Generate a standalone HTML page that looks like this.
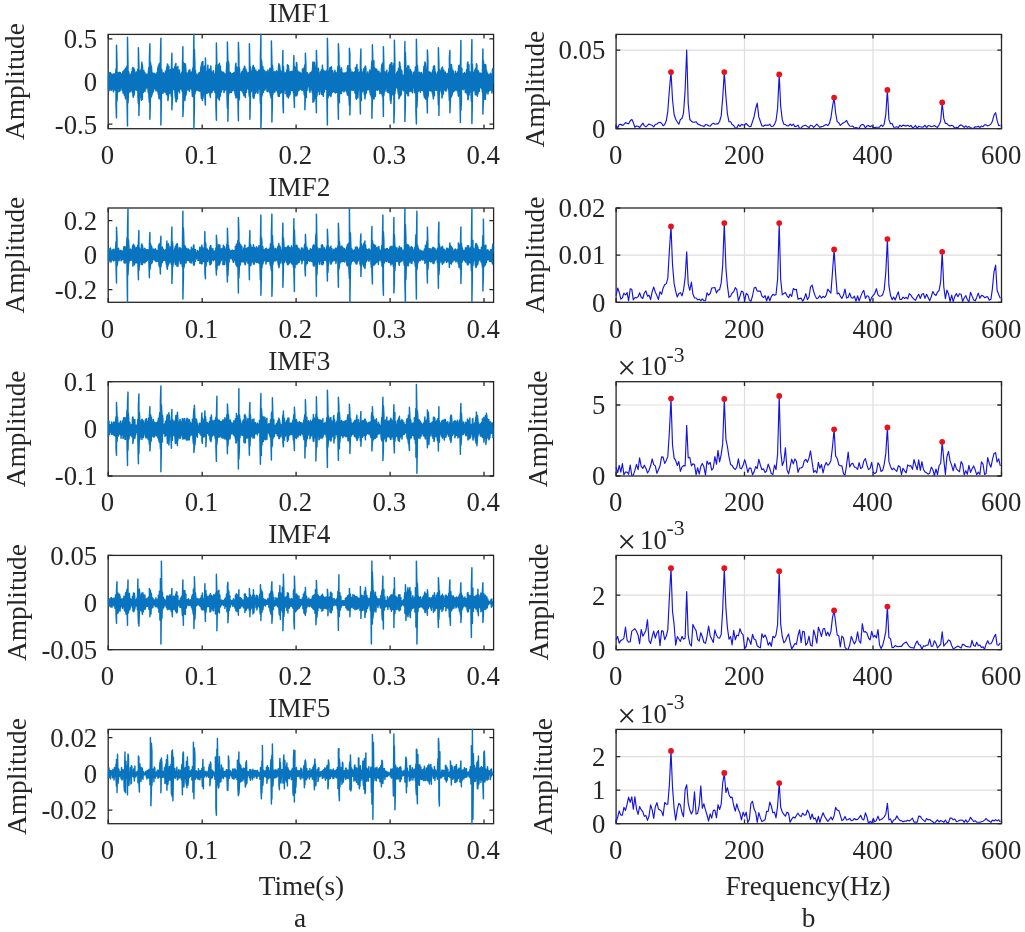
<!DOCTYPE html>
<html lang="en">
<head>
<meta charset="utf-8">
<title>IMF components and envelope spectra</title>
<style>
html,body{margin:0;padding:0;background:#fff;}
body{width:1025px;height:932px;overflow:hidden;}
svg{display:block;}
</style>
</head>
<body>
<svg width="1025" height="932" viewBox="0 0 1025 932" font-family='"Liberation Serif", serif' fill="#262626">
<rect width="1025" height="932" fill="#fff"/>
<path d="M108.2 128.7v-4.2M108.2 34.4v4.2M202.2 128.7v-4.2M202.2 34.4v4.2M296.1 128.7v-4.2M296.1 34.4v4.2M390.1 128.7v-4.2M390.1 34.4v4.2M484 128.7v-4.2M484 34.4v4.2M108.2 38.9h4.2M493.6 38.9h-4.2M108.2 81.5h4.2M493.6 81.5h-4.2M108.2 124.2h4.2M493.6 124.2h-4.2" stroke="#262626" stroke-width="1.3" fill="none"/>
<rect x="108.2" y="34.4" width="385.4" height="94.3" stroke="#262626" stroke-width="1.3" fill="none"/>
<polyline points="108.5,90.8 108.5,76.6 109,72.9 109,91 109.5,87.1 109.5,75.5 110,72.5 110,89.2 110.5,89.7 110.5,72.8 111,75 111,89.1 111.5,90.3 111.5,74.1 112,74.1 112,86 112.5,88 112.5,75.1 113,74.4 113,89.1 113.5,91.8 113.5,75 114,73.8 114,88.1 114.5,89.7 114.5,73.9 115,75.4 115,88.6 115.5,90.3 115.5,76.1 116,68.8 116,104.9 116.5,117.9 116.5,45.2 117,64.2 117,100.9 117.5,92.6 117.5,72.8 118,75 118,87.7 118.5,88.3 118.5,72.8 119,75.1 119,91.7 119.5,91 119.5,72.2 120,75.5 120,91 120.5,87.9 120.5,72.6 121,74.5 121,86.3 121.5,86.7 121.5,74.2 122,75.2 122,90.2 122.5,88.2 122.5,73.9 123,71.4 123,93 123.5,88.5 123.5,76.2 124,70.6 124,93.1 124.5,95.5 124.5,70.5 125,69.3 125,90.5 125.5,98.9 125.5,68.2 126,70.2 126,92 126.5,90.9 126.5,68.5 127,65.9 127,101.5 127.5,125.9 127.5,37.2 128,66.4 128,103 128.4,95.4 128.4,71.4 128.9,72.6 128.9,92 129.4,85.6 129.4,74.6 129.9,74.8 129.9,92 130.4,91.1 130.4,76.5 130.9,74.1 130.9,87.2 131.4,90.1 131.4,73.8 131.9,71.3 131.9,90.6 132.4,92.5 132.4,68.5 132.9,67.4 132.9,95.8 133.4,97.3 133.4,68.5 133.9,68.2 133.9,95.3 134.4,93 134.4,69.6 134.9,72.9 134.9,89.5 135.4,85.7 135.4,76.2 135.9,73.2 135.9,90 136.4,88.6 136.4,71.9 136.9,74.9 136.9,90.3 137.4,89.3 137.4,73 137.9,69 137.9,96.2 138.4,103.6 138.4,47.6 138.9,65.2 138.9,115.5 139.4,97.4 139.4,71.1 139.9,70.9 139.9,91.8 140.4,91.1 140.4,74.6 140.9,69.8 140.9,96.9 141.4,100.3 141.4,68.8 141.9,62.1 141.9,92.4 142.4,99.2 142.4,64.7 142.9,74.8 142.9,89.9 143.4,92.5 143.4,71.9 143.9,70.4 143.9,89.4 144.4,88.4 144.4,76.3 144.9,72.6 144.9,91.6 145.4,88 145.4,74.7 145.9,77.1 145.9,88.8 146.4,87.1 146.4,74.1 146.9,74.6 146.9,83.6 147.4,87.5 147.4,74.1 147.9,74.5 147.9,89.4 148.4,93 148.4,71.1 148.9,67.3 148.9,96.2 149.4,102.4 149.4,58.3 149.9,43.8 149.9,119.3 150.4,100.2 150.4,62.1 150.9,65.5 150.9,91 151.4,96.9 151.4,66.3 151.9,73.6 151.9,95.1 152.4,92.9 152.4,73.8 152.9,73.1 152.9,88.8 153.4,91.7 153.4,75 153.9,73.5 153.9,89.6 154.4,87.6 154.4,73.4 154.9,75.4 154.9,88.3 155.4,88.2 155.4,78.4 155.9,74.2 155.9,90.8 156.4,89.8 156.4,77.2 156.9,72.7 156.9,86.5 157.4,91.1 157.4,74.1 157.9,67.5 157.9,90.6 158.4,94.6 158.4,66.1 158.9,64.8 158.9,98.4 159.4,95.3 159.4,63.4 159.9,62.9 159.9,94.1 160.4,99.6 160.4,58 160.9,38.2 160.9,124.9 161.4,98.2 161.4,69.1 161.9,70.2 161.9,92.2 162.4,91.8 162.4,75.9 162.9,77.3 162.9,93.5 163.4,89.8 163.4,72.6 163.9,73.4 163.9,91.3 164.4,90.6 164.4,75 164.9,75.4 164.9,92.3 165.4,90.9 165.4,71.1 165.9,71.4 165.9,88.9 166.4,94.2 166.4,70 166.9,66.8 166.9,91.4 167.4,95.3 167.4,64 167.9,64.8 167.9,100.6 168.4,96.5 168.4,66.2 168.9,66.8 168.9,93.7 169.4,93.4 169.4,72.7 169.9,73.4 169.9,91 170.4,90.4 170.4,69.7 170.9,73.2 170.9,93.1 171.4,96.4 171.4,68.4 171.9,53.3 171.9,109.8 172.4,99.1 172.4,68.9 172.9,68.7 172.9,88.8 173.4,89.1 173.4,76 173.9,69.9 173.9,89.7 174.4,89.6 174.4,69 174.9,66.5 174.9,92.8 175.4,98.1 175.4,64.6 175.9,63.5 175.9,101.8 176.4,101.8 176.4,67.1 176.9,68.4 176.9,98.6 177.4,99 177.4,71.5 177.9,66.5 177.9,90.8 178.4,88.4 178.4,74.7 178.9,73.1 178.9,87.2 179.4,92.7 179.4,69.9 179.9,76.5 179.9,89.6 180.4,88.9 180.4,74.2 180.9,74.1 180.9,88.4 181.4,87.9 181.4,73.8 181.9,72.1 181.9,90.1 182.4,91.8 182.4,67.4 182.9,46.7 182.9,116.4 183.4,106.1 183.4,62.4 183.9,67.1 183.9,99.5 184.4,95.3 184.4,72.2 184.9,63.4 184.9,100.4 185.4,93.5 185.4,64.2 185.9,69.8 185.9,95.2 186.4,92.1 186.4,74.7 186.9,73 186.9,88.8 187.4,88.2 187.4,73.9 187.9,74.1 187.9,89.9 188.4,87.7 188.4,72.6 188.9,70.4 188.9,88.5 189.4,91.2 189.4,74.6 189.9,69.7 189.9,86.7 190.4,86.1 190.4,76.1 190.9,73.7 190.9,89 191.4,87.6 191.4,71.9 191.9,73 191.9,89.6 192.4,96.4 192.4,72.1 192.9,67.8 192.9,92.4 193.4,96.7 193.4,64.5 193.9,34.4 193.9,128.7 194.4,106.8 194.4,49.4 194.9,64.5 194.9,94.1 195.4,89.3 195.4,70.2 195.9,76.7 195.9,91 196.4,87.9 196.4,74.2 196.9,74.7 196.9,88.9 197.4,90.1 197.4,75.8 197.9,76.4 197.9,90.2 198.4,88.2 198.4,73.3 198.9,76.2 198.9,91 199.4,86.7 199.4,72.7 199.9,72.4 199.9,91 200.4,90.5 200.4,74.3 200.9,66.8 200.9,90.2 201.4,98.2 201.4,65.1 201.9,62.4 201.9,96.2 202.4,100.6 202.4,61.7 202.9,61.6 202.9,98.4 203.4,94.6 203.4,66.8 203.9,73.6 203.9,89 204.4,91.5 204.4,68.5 204.9,65.5 204.9,98.8 205.4,105.1 205.4,58 205.9,71.7 205.9,93.2 206.4,88.6 206.4,72.4 206.9,71.9 206.9,93.6 207.4,87.5 207.4,72.8 207.9,65.1 207.9,92.4 208.4,84.9 208.4,77.3 208.9,69.9 208.9,90.2 209.4,92.9 209.4,69.3 209.9,69.8 209.9,94.6 210.4,97.2 210.4,69.1 210.9,65.9 210.9,92.2 211.4,92.4 211.4,70.8 211.9,72 211.9,92.7 212.4,89.9 212.4,72.5 212.9,74.8 212.9,84.8 213.4,88.3 213.4,70.7 213.9,75.3 213.9,90.5 214.4,90.3 214.4,75.5 214.9,74.1 214.9,92.4 215.4,91.3 215.4,76.4 215.9,65 215.9,105.4 216.4,120.2 216.4,42.9 216.9,66.5 216.9,98.7 217.4,93.5 217.4,69.3 217.9,70.1 217.9,94.3 218.4,97.3 218.4,64.9 218.9,64.4 218.9,98.9 219.4,100.1 219.4,63.2 219.9,71.4 219.9,96.7 220.4,95.2 220.4,66.2 220.9,77.7 220.9,86.2 221.4,92.1 221.4,71.7 221.9,71.5 221.9,90.2 222.4,86.1 222.4,78.6 222.9,73.4 222.9,87.3 223.4,89.3 223.4,72.3 223.9,72.7 223.9,92.5 224.4,90.7 224.4,74 224.9,74.8 224.9,90.7 225.4,85.7 225.4,74 225.9,74.1 225.9,89.4 226.4,89.4 226.4,69.7 226.9,62.3 226.9,91.9 227.4,108.2 227.4,41.9 227.9,61.5 227.9,121.2 228.4,94.1 228.4,61.3 228.9,64.7 228.9,94 229.4,90.2 229.4,71.7 229.9,72.4 229.9,92.4 230.4,91.5 230.4,72.6 230.9,73.6 230.9,89.5 231.4,92.6 231.4,74.1 231.9,74.4 231.9,90.7 232.4,90.7 232.4,73.6 232.9,74.5 232.9,87.8 233.4,86.9 233.4,73.5 233.9,72.7 233.9,90.5 234.4,88.6 234.4,72.4 234.9,72.7 234.9,92.7 235.4,95.3 235.4,67.7 235.9,63.3 235.9,98.1 236.4,96.6 236.4,66.5 236.9,67.5 236.9,97.2 237.4,93.7 237.4,70.7 237.9,72 237.9,97.6 238.4,120.7 238.4,42.4 238.9,55.1 238.9,100.3 239.4,97.8 239.4,67.7 239.9,74.8 239.9,89.7 240.4,90.1 240.4,75.5 240.9,75.1 240.9,90.3 241.4,88.6 241.4,73.4 241.9,71.8 241.9,91.1 242.4,86.5 242.4,75.2 242.9,70.6 242.9,92.2 243.4,93.8 243.4,69 243.9,68.6 243.9,95.7 244.4,93.8 244.4,66.1 244.9,66.9 244.9,91.2 245.4,97.5 245.4,71.8 245.9,69.2 245.9,90.5 246.4,92.3 246.4,70.9 246.9,72.6 246.9,88.8 247.4,87.9 247.4,74.9 247.9,73.6 247.9,87.2 248.4,89.3 248.4,72.8 248.9,74.5 248.9,92.3 249.4,96.6 249.4,43.8 249.9,68.7 249.9,119.3 250.4,96.4 250.4,66.8 250.9,72.1 250.9,92.1 251.4,87.6 251.4,71.3 251.9,73.3 251.9,90.7 252.4,89.5 252.4,71 252.9,66.1 252.9,96.2 253.4,98 253.4,65.5 253.9,69.7 253.9,98.3 254.4,94.4 254.4,67.8 254.9,72 254.9,92.6 255.4,93.2 255.4,72.3 255.9,70.2 255.9,87.5 256.4,86.6 256.4,76.2 256.9,72 256.9,91.9 257.4,93 257.4,71.8 257.9,73.8 257.9,93.3 258.4,87.8 258.4,72 258.9,70 258.9,88.9 259.4,89 259.4,73.6 259.9,70.3 259.9,89.2 260.4,103.2 260.4,56.8 260.9,34.4 260.9,128.7 261.4,111.3 261.4,59.7 261.9,64.1 261.9,96.1 262.4,93.4 262.4,70.1 262.9,66.6 262.9,92.2 263.4,92.4 263.4,69.5 263.9,70.1 263.9,89.1 264.4,88 264.4,71.6 264.9,71.1 264.9,90.2 265.4,87.8 265.4,76.1 265.9,77 265.9,85.9 266.4,87.6 266.4,71.8 266.9,73.9 266.9,91.1 267.4,91.6 267.4,75.2 267.9,69.9 267.9,90.2 268.4,89.6 268.4,75.5 268.9,73.9 268.9,90.9 269.4,92.3 269.4,72 269.9,68.2 269.9,90.6 270.4,95.2 270.4,70 270.9,69.5 270.9,97.2 271.4,98.3 271.4,41 271.9,61.8 271.9,122.1 272.4,101.8 272.4,65.1 272.9,70.1 272.9,94.7 273.4,90.3 273.4,71.7 273.9,73 273.9,90.6 274.4,92.1 274.4,73.6 274.9,71.6 274.9,92.1 275.4,86.1 275.4,75 275.9,75.2 275.9,90 276.4,87.7 276.4,70.8 276.9,71.7 276.9,89.3 277.4,91.8 277.4,73.6 277.9,72.1 277.9,94.2 278.4,96.3 278.4,68.9 278.9,63.8 278.9,95.1 279.4,96.3 279.4,64.7 279.9,67.3 279.9,92.3 280.4,93.2 280.4,70.2 280.9,71.7 280.9,92.8 281.4,88.6 281.4,74 281.9,77.7 281.9,90.3 282.4,92.6 282.4,71.3 282.9,50.4 282.9,103.4 283.4,112.7 283.4,66.5 283.9,72.9 283.9,93.6 284.4,87 284.4,74 284.9,74 284.9,89.1 285.4,89.8 285.4,72.6 285.9,74.8 285.9,93.7 286.4,87.1 286.4,74.7 286.9,69.7 286.9,96.1 287.4,96.8 287.4,64.6 287.9,66.1 287.9,92.5 288.4,98 288.4,65.7 288.9,71.9 288.9,96.3 289.4,93 289.4,72 289.9,72.2 289.9,94.8 290.4,91.4 290.4,71.6 290.9,74.2 290.9,90.1 291.4,90.2 291.4,72 291.9,71.2 291.9,90.4 292.4,88.3 292.4,72.9 292.9,73.8 292.9,87.4 293.4,93 293.4,71.1 293.9,55.6 293.9,94.5 294.4,107.5 294.4,66.3 294.9,68.8 294.9,90 295.4,95.1 295.4,68.4 295.9,67.1 295.9,96 296.4,93.6 296.4,62.4 296.9,64 296.9,95.4 297.4,93.4 297.4,72.8 297.9,71 297.9,91.5 298.4,89.7 298.4,73.5 298.9,72.3 298.9,88.3 299.4,90.1 299.4,74.7 299.9,72.1 299.9,88.2 300.4,87 300.4,73.2 300.9,73.1 300.9,89.2 301.4,85.9 301.4,74.5 301.9,73.5 301.9,90.6 302.4,87.6 302.4,68.9 302.9,71.6 302.9,89.9 303.4,87.8 303.4,73.9 303.9,67.9 303.9,91.8 304.4,95.2 304.4,68.7 304.9,64.7 304.9,109.8 305.4,95.6 305.4,53.3 305.9,65.4 305.9,96.5 306.4,97.6 306.4,75.5 306.9,73 306.9,91 307.4,86.8 307.4,72.6 307.9,73.8 307.9,85.9 308.4,86.4 308.4,74.7 308.9,75.4 308.9,85.3 309.4,90.7 309.4,77.3 309.9,73.2 309.9,92.3 310.4,89.9 310.4,72.4 310.9,73.5 310.9,88.6 311.4,88.8 311.4,73.8 311.9,71.3 311.9,89.2 312.4,92.8 312.4,70.5 312.9,62.1 312.9,102.3 313.4,93.9 313.4,62.1 313.9,62.9 313.9,101.5 314.4,96.1 314.4,62.2 314.9,67.6 314.9,98.6 315.4,90.5 315.4,70.6 315.9,67.2 315.9,95 316.4,112.7 316.4,50.4 316.9,65 316.9,96.3 317.4,90.4 317.4,75.5 317.9,72.7 317.9,90.9 318.4,90.9 318.4,68.2 318.9,73.5 318.9,89 319.4,94.5 319.4,75.7 319.9,75.7 319.9,88.1 320.4,89.2 320.4,72.1 320.9,71.3 320.9,90.9 321.4,93.9 321.4,70 321.9,69.5 321.9,94.4 322.4,93.8 322.4,65.1 322.9,71.2 322.9,94.6 323.4,96.2 323.4,73.5 323.9,70.6 323.9,91.7 324.4,91.9 324.4,75.9 324.9,71.4 324.9,88.1 325.4,87.7 325.4,71.2 325.9,71.7 325.9,89.4 326.4,89.5 326.4,72.5 326.9,70.3 326.9,97.6 327.4,124.9 327.4,38.2 327.9,59.8 327.9,98 328.4,96 328.4,76.3 328.9,71.5 328.9,92.4 329.4,93.3 329.4,71.1 329.9,67.8 329.9,95.6 330.4,90.9 330.4,67.5 330.9,70.1 330.9,96.6 331.4,92.9 331.4,66.7 331.9,75.1 331.9,92.7 332.4,92.2 332.4,70.6 332.9,72.1 332.9,87.9 333.4,91.5 333.4,73.8 333.9,73.7 333.9,88.5 334.4,92.1 334.4,74.4 334.9,70.2 334.9,89.5 335.4,92.9 335.4,72.7 335.9,72.5 335.9,92.2 336.4,90.3 336.4,73.2 336.9,75.3 336.9,92.4 337.4,92.4 337.4,73.5 337.9,66.4 337.9,97.2 338.4,119.3 338.4,43.8 338.9,54.6 338.9,102.6 339.4,102.7 339.4,65.4 339.9,72.6 339.9,90.7 340.4,93.5 340.4,69.6 340.9,73 340.9,86.3 341.4,93.4 341.4,67.8 341.9,72.4 341.9,89.3 342.4,91 342.4,75.9 342.9,73.1 342.9,88.7 343.4,88.7 343.4,72.9 343.9,74.6 343.9,92.1 344.4,90.6 344.4,75.7 344.9,72.8 344.9,89.6 345.4,86.8 345.4,73.8 345.9,74.7 345.9,90.2 346.4,91.8 346.4,72.5 346.9,72.2 346.9,92 347.4,94.9 347.4,68.2 347.9,65.6 347.9,95.2 348.4,88 348.4,69.9 348.9,67.4 348.9,96.5 349.4,105.5 349.4,48.1 349.9,53.7 349.9,115 350.4,94.3 350.4,68.6 350.9,71.5 350.9,88.9 351.4,89.4 351.4,73.6 351.9,72.9 351.9,90.2 352.4,89.9 352.4,72 352.9,74.2 352.9,89.7 353.4,90.2 353.4,75.6 353.9,72.5 353.9,88.9 354.4,89.5 354.4,75 354.9,71.4 354.9,92.9 355.4,88.7 355.4,67.5 355.9,67.5 355.9,98.2 356.4,99.3 356.4,71.4 356.9,64.5 356.9,98.3 357.4,95.6 357.4,69.8 357.9,69.3 357.9,97.6 358.4,88 358.4,72.4 358.9,75.9 358.9,89.6 359.4,89.1 359.4,72.6 359.9,71.7 359.9,91.2 360.4,114.1 360.4,61.7 360.9,49 360.9,99.9 361.4,100.6 361.4,69.3 361.9,71.7 361.9,92.2 362.4,90.3 362.4,76.6 362.9,72.8 362.9,90.5 363.4,89.4 363.4,75.9 363.9,68.5 363.9,90.8 364.4,94.7 364.4,72.4 364.9,67 364.9,98.8 365.4,94.5 365.4,65.9 365.9,68.7 365.9,92.4 366.4,93 366.4,73.7 366.9,73.4 366.9,89.4 367.4,87.6 367.4,74.8 367.9,71.7 367.9,90 368.4,89.7 368.4,78.3 368.9,74.2 368.9,87.2 369.4,87.6 369.4,74.8 369.9,69.9 369.9,91.5 370.4,94.7 370.4,72.3 370.9,71.8 370.9,92.8 371.4,97.1 371.4,68.2 371.9,60.9 371.9,118.3 372.4,97.9 372.4,44.8 372.9,64.7 372.9,97.2 373.4,98.2 373.4,66.7 373.9,60.8 373.9,99 374.4,97.3 374.4,67.5 374.9,69.3 374.9,92 375.4,96.2 375.4,71.1 375.9,68.8 375.9,89.8 376.4,87.9 376.4,71.8 376.9,69.7 376.9,88.9 377.4,90.3 377.4,71.3 377.9,73.5 377.9,87.3 378.4,89.2 378.4,73.7 378.9,71.1 378.9,88.6 379.4,90.7 379.4,73.5 379.9,72.9 379.9,93.8 380.4,88.5 380.4,73.2 380.9,76.6 380.9,92.9 381.4,88.7 381.4,68.8 381.9,64.4 381.9,93 382.4,96.1 382.4,63.3 382.9,72.2 382.9,93.5 383.4,116.4 383.4,46.7 383.9,66.6 383.9,95.5 384.4,88.1 384.4,75.1 384.9,71.8 384.9,91.3 385.4,88.7 385.4,74.3 385.9,74 385.9,87.8 386.4,87.4 386.4,72.2 386.9,70.3 386.9,91.3 387.4,90.4 387.4,75.6 387.9,74.2 387.9,92.5 388.4,86.9 388.4,73.4 388.9,71.9 388.9,90.7 389.4,93.1 389.4,69.3 389.9,64.8 389.9,92.5 390.4,100.6 390.4,71.1 390.9,63.5 390.9,103.4 391.4,96.5 391.4,62.7 391.9,62.9 391.9,94.6 392.4,91.8 392.4,65.6 392.9,74.2 392.9,88.2 393.4,95.1 393.4,75.5 393.9,63.3 393.9,123 394.4,109.9 394.4,40.1 394.9,64.1 394.9,93.7 395.4,88 395.4,74.1 395.9,75.4 395.9,86.4 396.4,86.7 396.4,75.9 396.9,72.3 396.9,88 397.4,87.2 397.4,72.5 397.9,71.3 397.9,90.1 398.4,94.2 398.4,68.4 398.9,71.3 398.9,98.8 399.4,97.5 399.4,61.9 399.9,63 399.9,96.6 400.4,95.1 400.4,66.3 400.9,74.4 400.9,95.1 401.4,93.9 401.4,70.1 401.9,71.5 401.9,87.3 402.4,89.8 402.4,74.8 402.9,75.1 402.9,89.9 403.4,87.9 403.4,76 403.9,76.9 403.9,91.1 404.4,90.3 404.4,76.3 404.9,41.5 404.9,121.6 405.4,104 405.4,52.4 405.9,67.3 405.9,91.3 406.4,92 406.4,70.7 406.9,68.6 406.9,93.6 407.4,93.8 407.4,69.8 407.9,65.7 407.9,95.7 408.4,95.7 408.4,69.4 408.9,66.1 408.9,92.1 409.4,90.3 409.4,72.6 409.9,72.4 409.9,90.2 410.4,90.9 410.4,69.4 410.9,71.7 410.9,91.2 411.4,89.2 411.4,71.5 411.9,76 411.9,88.5 412.4,92.8 412.4,75.2 412.9,75.2 412.9,87.9 413.4,86.8 413.4,72.2 413.9,78.3 413.9,86.7 414.4,92.1 414.4,76.2 414.9,70.7 414.9,92.7 415.4,92.6 415.4,67 415.9,69 415.9,110.8 416.4,124 416.4,39.1 416.9,63.2 416.9,107.3 417.4,97.5 417.4,65.4 417.9,72.2 417.9,91.6 418.4,91.3 418.4,76.2 418.9,75.9 418.9,88.6 419.4,90.1 419.4,72.2 419.9,74.1 419.9,88.5 420.4,92.3 420.4,73.1 420.9,75.7 420.9,89.9 421.4,88.7 421.4,72.5 421.9,74.2 421.9,90.5 422.4,85.4 422.4,75.7 422.9,75 422.9,85.9 423.4,91.8 423.4,74.9 423.9,66.5 423.9,94.6 424.4,97.2 424.4,73.2 424.9,62 424.9,96.6 425.4,98.9 425.4,62.8 425.9,69.4 425.9,99 426.4,92.1 426.4,70.2 426.9,69 426.9,97.6 427.4,113.1 427.4,50 427.9,60.8 427.9,97 428.4,94.8 428.4,72.6 428.9,71.9 428.9,90.2 429.4,88.1 429.4,71.9 429.9,73.6 429.9,90.7 430.4,90.7 430.4,73.2 430.9,72.2 430.9,87.1 431.4,91 431.4,73.7 431.9,76.1 431.9,90.1 432.4,93.3 432.4,74.9 432.9,69.7 432.9,95 433.4,98.9 433.4,66.5 433.9,66.2 433.9,95.2 434.4,95.7 434.4,65.6 434.9,70.1 434.9,88 435.4,90.1 435.4,72.1 435.9,73.5 435.9,87.9 436.4,90.4 436.4,75.1 436.9,75.1 436.9,88.4 437.4,88.4 437.4,74.9 437.9,71.7 437.9,91.9 438.4,105 438.4,47.6 438.9,63.9 438.9,115.5 439.4,86.3 439.4,69.5 439.9,73.2 439.9,89.2 440.4,88.8 440.4,72.9 440.9,70.7 440.9,90.7 441.4,92.8 441.4,68.6 441.9,67.9 441.9,98.1 442.4,95.8 442.4,66.9 442.9,70.1 442.9,90.6 443.4,94.1 443.4,73.8 443.9,70.5 443.9,88.1 444.4,89 444.4,74.1 444.9,72.7 444.9,90.3 445.4,88.3 445.4,72 445.9,75.8 445.9,91.2 446.4,89.7 446.4,74.4 446.9,74.2 446.9,87.1 447.4,87.3 447.4,73.4 447.9,74.8 447.9,87.1 448.4,89.7 448.4,73.8 448.9,68.6 448.9,91.1 449.4,100.8 449.4,57.4 449.9,50.4 449.9,112.7 450.4,99.9 450.4,65.7 450.9,71 450.9,97.1 451.4,97 451.4,64.5 451.9,68.6 451.9,95.3 452.4,92.8 452.4,72 452.9,70.3 452.9,89.6 453.4,91.9 453.4,71.4 453.9,76 453.9,90.4 454.4,90.9 454.4,74.4 454.9,74.3 454.9,90.6 455.4,87.1 455.4,71.3 455.9,73.2 455.9,88.1 456.4,89.7 456.4,73.5 456.9,77.2 456.9,90.3 457.4,91 457.4,73.7 457.9,71.5 457.9,91.3 458.4,96.3 458.4,69.3 458.9,65.4 458.9,95 459.4,93.1 459.4,65.4 459.9,66.6 459.9,97.1 460.4,122.6 460.4,67.6 460.9,40.5 460.9,110.5 461.4,102.6 461.4,67.9 461.9,68.9 461.9,89.3 462.4,88.9 462.4,77.8 462.9,76.4 462.9,84.7 463.4,89.8 463.4,73.8 463.9,76.2 463.9,87.8 464.4,88.2 464.4,72.5 464.9,74.5 464.9,87.5 465.4,92.6 465.4,73.8 465.9,74.6 465.9,91.3 466.4,91.9 466.4,71.3 466.9,69.3 466.9,93.1 467.4,94.9 467.4,63.5 467.9,62 467.9,99.7 468.4,97.9 468.4,67 468.9,64.8 468.9,95.4 469.4,92.5 469.4,71.3 469.9,72 469.9,85.5 470.4,88.3 470.4,74.6 470.9,73.4 470.9,91.4 471.4,101.2 471.4,63.6 471.9,39.6 471.9,123.5 472.4,100.1 472.4,64.3 472.9,74.5 472.9,91.7 473.4,89 473.4,72.3 473.9,75.9 473.9,89.9 474.4,88.3 474.4,75.4 474.9,69.7 474.9,90.4 475.4,94.7 475.4,69.8 475.9,67.9 475.9,91.3 476.4,93.7 476.4,63.6 476.9,65.2 476.9,94.9 477.4,96.2 477.4,70.3 477.9,70.4 477.9,93.9 478.4,91.2 478.4,71 478.9,75.6 478.9,88.8 479.4,91.3 479.4,73.6 479.9,73.1 479.9,87.1 480.4,86.9 480.4,77.6 480.9,73.3 480.9,87.6 481.4,88.5 481.4,75.3 481.9,74.4 481.9,86.1 482.4,92.2 482.4,73.4 482.9,49 482.9,114.1 483.4,100.2 483.4,60.7 483.9,68.9 483.9,91.9 484.4,97 484.4,70.4 484.9,64.5 484.9,99.2 485.4,99.3 485.4,64.4 485.9,65.7 485.9,93.9 486.4,91.2 486.4,70 486.9,72.6 486.9,91.9 487.4,88.9 487.4,72.9 487.9,75.6 487.9,94.1 488.4,90.7 488.4,74.8 488.9,74.4 488.9,91.2 489.4,86.6 489.4,76.5 489.9,77.5 489.9,90.3 490.4,90.3 490.4,73.1 490.9,76.1 490.9,84 491.4,89.5 491.4,74.2 491.9,75.2 491.9,93 492.4,90.3 492.4,70 492.9,68.5 492.9,83.6" fill="none" stroke="#0874bf" stroke-width="1.45" stroke-linejoin="round"/>
<text transform="translate(107.4 164.1) scale(0.95 1)" font-size="28.2" text-anchor="middle">0</text>
<text transform="translate(201.4 164.1) scale(0.95 1)" font-size="28.2" text-anchor="middle">0.1</text>
<text transform="translate(295.3 164.1) scale(0.95 1)" font-size="28.2" text-anchor="middle">0.2</text>
<text transform="translate(389.3 164.1) scale(0.95 1)" font-size="28.2" text-anchor="middle">0.3</text>
<text transform="translate(483.2 164.1) scale(0.95 1)" font-size="28.2" text-anchor="middle">0.4</text>
<text transform="translate(97.2 48.2) scale(0.95 1)" font-size="28.2" text-anchor="end">0.5</text>
<text transform="translate(97.2 90.8) scale(0.95 1)" font-size="28.2" text-anchor="end">0</text>
<text transform="translate(97.2 133.5) scale(0.95 1)" font-size="28.2" text-anchor="end">-0.5</text>
<text x="299.3" y="22.3" font-size="27.3" text-anchor="middle">IMF1</text>
<text transform="translate(24 81.5) rotate(-90)" font-size="27.3" text-anchor="middle">Amplitude</text>
<path d="M744.5 34.4V128.7M873 34.4V128.7M616.1 50.1H1001.5" stroke="#dedede" stroke-width="1.2" fill="none"/>
<path d="M616.1 128.7v-4.2M616.1 34.4v4.2M744.5 128.7v-4.2M744.5 34.4v4.2M873 128.7v-4.2M873 34.4v4.2M1001.5 128.7v-4.2M1001.5 34.4v4.2M616.1 50.1h4.2M1001.5 50.1h-4.2M616.1 128.7h4.2M1001.5 128.7h-4.2" stroke="#262626" stroke-width="1.3" fill="none"/>
<rect x="616.1" y="34.4" width="385.4" height="94.3" stroke="#262626" stroke-width="1.3" fill="none"/>
<polyline points="616.1,125.2 617.7,128.1 619.2,124.6 620.8,124.2 622.4,125.5 623.9,124.5 625.5,122.6 627.1,123.4 628.6,123.8 630.2,120.9 631.8,119.3 633.3,122.6 634.9,127.3 636.5,126 638.1,126.2 639.6,127.7 641.2,125.4 642.8,123.1 644.3,125.6 645.9,126.9 647.5,125.4 649,124 650.6,124.8 652.2,125.3 653.7,126.9 655.3,124.5 656.9,124 658.4,122.7 660,122.3 661.6,123.3 663.1,125.8 664.7,124.5 666.3,120.8 667.8,111.3 669.4,89.7 671,72.1 672.5,99.2 674.1,114.5 675.7,119.3 677.3,122 678.8,124.3 680.4,119.5 682,118.5 683.5,113.2 685.1,90.6 686.7,50.1 688.2,103.8 689.8,119.5 691.4,121.2 692.9,122.2 694.5,122.1 696.1,121.7 697.6,123.9 699.2,124.6 700.8,125.6 702.3,125.8 703.9,126.6 705.5,124.6 707,124.7 708.6,125.7 710.2,126.1 711.7,124.3 713.3,123.1 714.9,124.2 716.5,123.8 718,123.9 719.6,121.5 721.2,115.9 722.7,98.1 724.3,72.1 725.9,96.3 727.4,113.8 729,121.8 730.6,121.7 732.1,124.5 733.7,125.5 735.3,128 736.8,128.1 738.4,124.7 740,126.3 741.5,124.4 743.1,125 744.7,124.7 746.2,123.5 747.8,125.3 749.4,126.6 750.9,126.5 752.5,121.6 754.1,116.7 755.7,108.3 757.2,103.1 758.8,116.9 760.4,121.5 761.9,125.9 763.5,126.3 765.1,125 766.6,125.1 768.2,125.4 769.8,124.2 771.3,126.5 772.9,126.3 774.5,124.4 776,120.8 777.6,108.4 779.2,74.5 780.7,106.6 782.3,119.9 783.9,124.3 785.4,124.6 787,125.8 788.6,125.9 790.1,124 791.7,125.7 793.3,124.1 794.9,126.6 796.4,126.4 798,125.1 799.6,128.4 801.1,128.2 802.7,126.2 804.3,125.5 805.8,125.4 807.4,126.6 809,127.6 810.5,125.3 812.1,125.7 813.7,127.3 815.2,125.9 816.8,124.1 818.4,125.8 819.9,127.3 821.5,126.6 823.1,126.2 824.6,125.2 826.2,124.4 827.8,125.6 829.3,123.7 830.9,118 832.5,106.6 834.1,97.6 835.6,112.9 837.2,121.6 838.8,122.8 840.3,125.4 841.9,123.9 843.5,122.7 845,121.9 846.6,120.5 848.2,123.9 849.7,126 851.3,126.2 852.9,126.1 854.4,128 856,127.5 857.6,128 859.1,128.6 860.7,125.2 862.3,124.4 863.8,125 865.4,128 867,125.9 868.5,125.5 870.1,126.7 871.7,125.6 873.3,127.5 874.8,127.6 876.4,127.3 878,127.2 879.5,127.1 881.1,125 882.7,126.4 884.2,124.2 885.8,114.3 887.4,90 888.9,119.4 890.5,123.7 892.1,123.6 893.6,127.1 895.2,127.2 896.8,126.8 898.3,127.6 899.9,125.2 901.5,126.5 903,125.1 904.6,125.6 906.2,126.1 907.7,125.3 909.3,126.4 910.9,125.4 912.5,127.7 914,127.2 915.6,125.4 917.2,128.4 918.7,126.2 920.3,126.8 921.9,127.1 923.4,127 925,125.2 926.6,127.7 928.1,125.6 929.7,125.7 931.3,126.7 932.8,126.3 934.4,125.5 936,126.8 937.5,127.4 939.1,124.8 940.7,121 942.2,102.5 943.8,118.4 945.4,123.5 946.9,123.6 948.5,125.4 950.1,125.9 951.7,125.3 953.2,126.1 954.8,128.2 956.4,127.4 957.9,127.7 959.5,125.6 961.1,124.9 962.6,126 964.2,127.4 965.8,125.8 967.3,127.3 968.9,126.4 970.5,127.9 972,128.3 973.6,128.1 975.2,126.7 976.7,127 978.3,126.2 979.9,127.6 981.4,126 983,126.7 984.6,124.8 986.1,124.9 987.7,126 989.3,125.3 990.9,124.1 992.4,121.2 994,115.1 995.6,112.7 997.1,120.4 998.7,125.7 1000.3,125.2" fill="none" stroke="#1414dc" stroke-width="1.15" stroke-linejoin="round"/>
<circle cx="671" cy="72.1" r="2.9" fill="#e8121c"/>
<circle cx="724.3" cy="72.1" r="2.9" fill="#e8121c"/>
<circle cx="779.2" cy="74.5" r="2.9" fill="#e8121c"/>
<circle cx="834.1" cy="97.6" r="2.9" fill="#e8121c"/>
<circle cx="887.4" cy="90" r="2.9" fill="#e8121c"/>
<circle cx="942.2" cy="102.5" r="2.9" fill="#e8121c"/>
<text transform="translate(615.8 164.1) scale(0.95 1)" font-size="28.2" text-anchor="middle">0</text>
<text transform="translate(744.2 164.1) scale(0.95 1)" font-size="28.2" text-anchor="middle">200</text>
<text transform="translate(872.7 164.1) scale(0.95 1)" font-size="28.2" text-anchor="middle">400</text>
<text transform="translate(1001.2 164.1) scale(0.95 1)" font-size="28.2" text-anchor="middle">600</text>
<text transform="translate(605.4 59.4) scale(0.95 1)" font-size="28.2" text-anchor="end">0.05</text>
<text transform="translate(605.4 138) scale(0.95 1)" font-size="28.2" text-anchor="end">0</text>
<text transform="translate(544.1 89.2) rotate(-90)" font-size="27.3" text-anchor="middle">Amplitude</text>
<path d="M108.2 302.3v-4.2M108.2 208v4.2M202.2 302.3v-4.2M202.2 208v4.2M296.1 302.3v-4.2M296.1 208v4.2M390.1 302.3v-4.2M390.1 208v4.2M484 302.3v-4.2M484 208v4.2M108.2 220.7h4.2M493.6 220.7h-4.2M108.2 255.2h4.2M493.6 255.2h-4.2M108.2 289.6h4.2M493.6 289.6h-4.2" stroke="#262626" stroke-width="1.3" fill="none"/>
<rect x="108.2" y="208" width="385.4" height="94.3" stroke="#262626" stroke-width="1.3" fill="none"/>
<polyline points="108.5,260.7 108.5,251 109,248.7 109,261.7 109.5,256.8 109.5,251.6 110,251.9 110,259 110.5,260.7 110.5,248 111,252.1 111,262.2 111.5,259.1 111.5,250.6 112,250.8 112,259.2 112.5,259.5 112.5,252 113,249.5 113,260.5 113.5,260.9 113.5,250.1 114,249.2 114,260.6 114.5,258.4 114.5,252.3 115,252.4 115,257.4 115.5,260.4 115.5,251 116,241.8 116,264.6 116.5,283 116.5,227.3 117,239 117,265.8 117.5,264.1 117.5,248.1 118,252.1 118,259.5 118.5,260.6 118.5,248.1 119,251.1 119,260.8 119.5,258.3 119.5,251.7 120,251.1 120,258.1 120.5,258.2 120.5,250.5 121,250.3 121,260.7 121.5,260.2 121.5,251.1 122,250.9 122,259.8 122.5,257.8 122.5,251.7 123,252.1 123,258.5 123.5,259.5 123.5,250.5 124,246.5 124,262.3 124.5,263 124.5,247.1 125,246.9 125,262.1 125.5,263 125.5,247.3 126,248.6 126,261.4 126.5,261.2 126.5,248.5 127,237.6 127,267.7 127.5,302.3 127.5,229.4 128,208 128,275 128.4,265.7 128.4,239.6 128.9,245.8 128.9,262.9 129.4,258.2 129.4,250.7 129.9,249.4 129.9,258.9 130.4,260.4 130.4,248.9 130.9,254 130.9,259 131.4,259.4 131.4,250.1 131.9,249.8 131.9,260 132.4,261 132.4,247.6 132.9,245.4 132.9,266 133.4,263.4 133.4,244.3 133.9,246.3 133.9,261.9 134.4,264.7 134.4,245.8 134.9,247.7 134.9,263.6 135.4,261.4 135.4,248.9 135.9,248.8 135.9,261.6 136.4,262.2 136.4,247.7 136.9,249.5 136.9,263 137.4,262.5 137.4,246.4 137.9,245 137.9,260.8 138.4,279.7 138.4,242.5 138.9,230.6 138.9,270.4 139.4,264.8 139.4,247.7 139.9,249 139.9,259.5 140.4,261.5 140.4,251 140.9,249.4 140.9,262.4 141.4,264.6 141.4,245 141.9,243.9 141.9,264.3 142.4,264.5 142.4,245.4 142.9,249 142.9,263 143.4,260.8 143.4,251.8 143.9,249.3 143.9,260.2 144.4,262.4 144.4,250.4 144.9,248.2 144.9,262.9 145.4,260.6 145.4,249.8 145.9,251 145.9,261.1 146.4,261.2 146.4,249.9 146.9,249.6 146.9,260.8 147.4,260.1 147.4,249.8 147.9,251.4 147.9,258.9 148.4,259.1 148.4,251.3 148.9,249.5 148.9,262.4 149.4,277.8 149.4,244.5 149.9,232.5 149.9,269.6 150.4,265.1 150.4,243.2 150.9,246.2 150.9,264.3 151.4,263.3 151.4,245.9 151.9,247.7 151.9,263.1 152.4,261.7 152.4,249 152.9,251.5 152.9,257 153.4,259.1 153.4,250.5 153.9,249.1 153.9,259.7 154.4,257.4 154.4,250.8 154.9,251 154.9,260.3 155.4,259.8 155.4,248.6 155.9,251.6 155.9,261.6 156.4,261.5 156.4,250.4 156.9,253.5 156.9,258.3 157.4,259.3 157.4,251.2 157.9,250.1 157.9,261.5 158.4,261.3 158.4,246.3 158.9,244.7 158.9,264.7 159.4,266.5 159.4,243.6 159.9,246.1 159.9,264.9 160.4,274 160.4,244.3 160.9,236.3 160.9,267 161.4,263.3 161.4,247.2 161.9,248.8 161.9,262.8 162.4,261.9 162.4,247 162.9,254.5 162.9,259.2 163.4,260.6 163.4,249.1 163.9,251.8 163.9,258.2 164.4,258.9 164.4,250.6 164.9,253.1 164.9,260.6 165.4,260.5 165.4,249.8 165.9,250.2 165.9,260.8 166.4,264.6 166.4,248.9 166.9,241 166.9,267 167.4,269.3 167.4,244.2 167.9,248.9 167.9,266.1 168.4,264 168.4,243.7 168.9,246.3 168.9,263.7 169.4,260.9 169.4,249.5 169.9,250 169.9,259.1 170.4,261.6 170.4,247.7 170.9,246.6 170.9,262.3 171.4,264.3 171.4,245.3 171.9,226.9 171.9,283.4 172.4,269.2 172.4,241.4 172.9,246.8 172.9,266.5 173.4,260.4 173.4,250.6 173.9,250.4 173.9,261 174.4,258.9 174.4,252.2 174.9,247.9 174.9,261.9 175.4,264.5 175.4,246.3 175.9,247.4 175.9,263.2 176.4,263.7 176.4,244.1 176.9,245.9 176.9,265.9 177.4,263 177.4,243.8 177.9,249.7 177.9,266.5 178.4,258.3 178.4,250.1 178.9,251.1 178.9,260 179.4,259.8 179.4,247.8 179.9,249.7 179.9,260.6 180.4,263.8 180.4,247.9 180.9,255 180.9,258.8 181.4,260.5 181.4,249.4 181.9,248.8 181.9,263 182.4,266.7 182.4,249.7 182.9,211.3 182.9,299 183.4,277.2 183.4,228 183.9,241.9 183.9,267.6 184.4,265.4 184.4,245.9 184.9,245.6 184.9,262.8 185.4,262.6 185.4,246.6 185.9,249.5 185.9,263.1 186.4,260.5 186.4,250.8 186.9,248.5 186.9,260.4 187.4,258.8 187.4,250.8 187.9,252.5 187.9,260.4 188.4,260.5 188.4,249 188.9,251.7 188.9,257 189.4,260.9 189.4,250.3 189.9,250.1 189.9,262.2 190.4,260.7 190.4,251 190.9,250.4 190.9,263.1 191.4,262.7 191.4,247.3 191.9,249.9 191.9,260.4 192.4,260.4 192.4,249.2 192.9,249.4 192.9,260.2 193.4,264.2 193.4,245.9 193.9,244.8 193.9,265.5 194.4,264.4 194.4,249.5 194.9,249.4 194.9,260.5 195.4,261.4 195.4,249.8 195.9,252.8 195.9,259.4 196.4,255.4 196.4,253 196.9,252.8 196.9,257.8 197.4,258 197.4,250.5 197.9,251.9 197.9,260.6 198.4,257.2 198.4,251.6 198.9,252.2 198.9,260.2 199.4,258 199.4,250.2 199.9,247.1 199.9,263.4 200.4,259.8 200.4,249.6 200.9,250.6 200.9,259.6 201.4,263.6 201.4,247.8 201.9,245.1 201.9,263.9 202.4,262.6 202.4,248.5 202.9,247.8 202.9,261.3 203.4,261.1 203.4,248.9 203.9,251.8 203.9,259.1 204.4,261.8 204.4,249.7 204.9,231.6 204.9,272.1 205.4,278.7 205.4,242.2 205.9,245.2 205.9,266.5 206.4,263.1 206.4,248.6 206.9,251.1 206.9,260.5 207.4,261.4 207.4,249 207.9,251.8 207.9,259.2 208.4,259 208.4,251 208.9,250.7 208.9,259.3 209.4,262.3 209.4,251.8 209.9,247.1 209.9,264.7 210.4,264.7 210.4,245.8 210.9,245.7 210.9,263.9 211.4,262.8 211.4,248.3 211.9,249.3 211.9,258.7 212.4,259.8 212.4,250 212.9,248.7 212.9,259.4 213.4,260.7 213.4,250.6 213.9,251.4 213.9,257.1 214.4,259.2 214.4,252.7 214.9,251.1 214.9,258 215.4,260 215.4,252.3 215.9,248 215.9,266.5 216.4,275 216.4,235.3 216.9,243.1 216.9,269.6 217.4,260 217.4,247.7 217.9,249 217.9,260.6 218.4,265.1 218.4,245.1 218.9,244.7 218.9,264.5 219.4,264.9 219.4,251.2 219.9,245.1 219.9,263.6 220.4,261.3 220.4,250.3 220.9,249 220.9,260.9 221.4,259.4 221.4,248.7 221.9,251.7 221.9,258.7 222.4,257.5 222.4,251.9 222.9,247.9 222.9,264.8 223.4,261.4 223.4,245.3 223.9,248.8 223.9,262.7 224.4,264.5 224.4,246.8 224.9,249.5 224.9,259.9 225.4,260.4 225.4,252.3 225.9,250.5 225.9,257.8 226.4,264.4 226.4,248.5 226.9,244 226.9,268.7 227.4,282 227.4,228.3 227.9,241.5 227.9,275.4 228.4,265.7 228.4,245.3 228.9,249.5 228.9,262.7 229.4,259.1 229.4,249.5 229.9,251.2 229.9,258.2 230.4,258.6 230.4,253.3 230.9,250.9 230.9,257.7 231.4,257.7 231.4,250.9 231.9,250.2 231.9,258.7 232.4,259.3 232.4,249.9 232.9,251.5 232.9,260.7 233.4,262.2 233.4,250.6 233.9,251.3 233.9,260.4 234.4,260.3 234.4,250.5 234.9,250.1 234.9,259 235.4,262.5 235.4,246.5 235.9,247.1 235.9,264.8 236.4,263.8 236.4,244.3 236.9,245.3 236.9,266.4 237.4,263.8 237.4,244.6 237.9,240.3 237.9,264.7 238.4,292.9 238.4,217.4 238.9,232.8 238.9,278 239.4,267.3 239.4,242.5 239.9,245 239.9,265.4 240.4,264.2 240.4,247.4 240.9,245 240.9,261.3 241.4,256.8 241.4,250.6 241.9,246.6 241.9,262.1 242.4,259 242.4,252.1 242.9,251.5 242.9,258 243.4,261.5 243.4,249.4 243.9,247.9 243.9,261.4 244.4,262.6 244.4,247.4 244.9,244.9 244.9,264.4 245.4,264.7 245.4,248.3 245.9,249 245.9,262.4 246.4,259.5 246.4,250.5 246.9,248.3 246.9,260.6 247.4,260.1 247.4,248.7 247.9,247.5 247.9,263.3 248.4,261.7 248.4,247.2 248.9,247.8 248.9,258.4 249.4,279.7 249.4,243.6 249.9,230.6 249.9,251.9 250.4,265.4 250.4,244.1 250.9,245.9 250.9,265.4 251.4,259.7 251.4,247.5 251.9,249.1 251.9,259.9 252.4,261.4 252.4,249.7 252.9,246.9 252.9,261.9 253.4,263.6 253.4,244.8 253.9,247.3 253.9,264.6 254.4,263 254.4,247.4 254.9,248.1 254.9,261.6 255.4,260.4 255.4,250.6 255.9,249.2 255.9,260 256.4,262.6 256.4,246.6 256.9,248.8 256.9,262.1 257.4,258.5 257.4,252.3 257.9,248.1 257.9,262.4 258.4,260.7 258.4,249 258.9,245.8 258.9,263.2 259.4,261.2 259.4,250.4 259.9,251.2 259.9,262.7 260.4,279.7 260.4,242.9 260.9,215.1 260.9,295.2 261.4,274.1 261.4,237.3 261.9,241.8 261.9,268 262.4,262 262.4,246.1 262.9,247.2 262.9,263.9 263.4,261.1 263.4,250.8 263.9,249.7 263.9,260.3 264.4,260.8 264.4,250.7 264.9,250.5 264.9,260.1 265.4,258.5 265.4,248.7 265.9,250.2 265.9,264.1 266.4,261.1 266.4,248.3 266.9,252.4 266.9,257.7 267.4,261.3 267.4,249.5 267.9,251.6 267.9,256.2 268.4,261.2 268.4,249.6 268.9,251.6 268.9,258.4 269.4,261.1 269.4,248.1 269.9,248.2 269.9,262.7 270.4,265.5 270.4,243.8 270.9,245.7 270.9,266 271.4,270.6 271.4,232 271.9,214.1 271.9,296.2 272.4,281.2 272.4,235.4 272.9,245.3 272.9,264.4 273.4,261 273.4,246.1 273.9,248.6 273.9,259.7 274.4,258.6 274.4,253.5 274.9,249.9 274.9,261 275.4,260.5 275.4,248.8 275.9,248.4 275.9,260.7 276.4,259.4 276.4,250.8 276.9,250.3 276.9,259.4 277.4,260 277.4,250.2 277.9,246.5 277.9,262 278.4,265.1 278.4,246.2 278.9,243.6 278.9,267.7 279.4,265.5 279.4,247 279.9,246.1 279.9,261.9 280.4,262.9 280.4,247.3 280.9,251.4 280.9,259.7 281.4,257.9 281.4,250.3 281.9,252.1 281.9,260.5 282.4,263.8 282.4,242.9 282.9,223.1 282.9,287.2 283.4,270.2 283.4,237.6 283.9,244.4 283.9,263 284.4,261.7 284.4,247.3 284.9,250.7 284.9,259.7 285.4,260.3 285.4,251.7 285.9,247.5 285.9,259.5 286.4,262 286.4,248.4 286.9,247.9 286.9,261 287.4,264.2 287.4,247.1 287.9,246 287.9,264.7 288.4,264.2 288.4,245.9 288.9,248.8 288.9,263.2 289.4,259.5 289.4,252 289.9,247.6 289.9,263 290.4,259.3 290.4,250.2 290.9,251.3 290.9,260.4 291.4,261.9 291.4,245.8 291.9,249.2 291.9,264 292.4,261.7 292.4,248.1 292.9,248.2 292.9,261.5 293.4,267.3 293.4,246.9 293.9,218.8 293.9,272.4 294.4,291.5 294.4,229.9 294.9,244.3 294.9,268 295.4,262.6 295.4,248.5 295.9,247 295.9,263.4 296.4,262.6 296.4,245.1 296.9,245.4 296.9,264.6 297.4,261.9 297.4,246.8 297.9,248.4 297.9,261.5 298.4,262.8 298.4,248.9 298.9,248.4 298.9,260.3 299.4,262.1 299.4,249.9 299.9,250.1 299.9,259 300.4,259.6 300.4,252.2 300.9,250.5 300.9,259.3 301.4,260.4 301.4,247.9 301.9,248.2 301.9,263.7 302.4,259.8 302.4,248.1 302.9,249.6 302.9,260.3 303.4,259.7 303.4,251.5 303.9,249.4 303.9,260.1 304.4,259.1 304.4,245.8 304.9,243.9 304.9,268.2 305.4,275.9 305.4,234.4 305.9,244.3 305.9,265.4 306.4,258.2 306.4,248.3 306.9,247.1 306.9,262.1 307.4,263.6 307.4,248.7 307.9,252.8 307.9,260.4 308.4,258.9 308.4,250.6 308.9,251.7 308.9,259.6 309.4,261.3 309.4,250.5 309.9,250 309.9,260.7 310.4,260.8 310.4,248.4 310.9,249.8 310.9,260.4 311.4,261.4 311.4,251.6 311.9,249.5 311.9,259.5 312.4,261.4 312.4,251.1 312.9,246.1 312.9,261.6 313.4,265.6 313.4,245 313.9,245.7 313.9,266.2 314.4,264.6 314.4,245.1 314.9,248.8 314.9,264 315.4,262.9 315.4,245.2 315.9,234.1 315.9,265.8 316.4,296.2 316.4,214.1 316.9,241.2 316.9,274.9 317.4,263.8 317.4,247.3 317.9,249.3 317.9,259.7 318.4,261.8 318.4,251.8 318.9,250.7 318.9,257.5 319.4,264.2 319.4,248.5 319.9,248.9 319.9,260.4 320.4,261.1 320.4,250.1 320.9,248.7 320.9,260.6 321.4,264.1 321.4,245.1 321.9,251.8 321.9,264.6 322.4,264.8 322.4,244.7 322.9,246.5 322.9,263.3 323.4,263.7 323.4,250.1 323.9,249.7 323.9,260.6 324.4,259 324.4,247.7 324.9,251.2 324.9,260.3 325.4,258.8 325.4,253.3 325.9,249.7 325.9,259.6 326.4,261.1 326.4,248.9 326.9,246.1 326.9,262.3 327.4,281.1 327.4,229.2 327.9,240.6 327.9,272.5 328.4,261.7 328.4,245.6 328.9,248.8 328.9,259.8 329.4,259.8 329.4,250.7 329.9,249.1 329.9,260.3 330.4,263.6 330.4,247.4 330.9,246.2 330.9,264.3 331.4,262.8 331.4,253.2 331.9,248.4 331.9,262 332.4,259.1 332.4,250.5 332.9,250.6 332.9,261.2 333.4,259.8 333.4,250.9 333.9,249.3 333.9,260.1 334.4,258.1 334.4,250.8 334.9,251 334.9,260.7 335.4,261 335.4,248.9 335.9,248.1 335.9,263.5 336.4,260.3 336.4,250.3 336.9,248.9 336.9,258.5 337.4,259.6 337.4,248.4 337.9,245.9 337.9,267 338.4,287.2 338.4,223.1 338.9,236.5 338.9,269 339.4,266.7 339.4,241.2 339.9,246.8 339.9,263.1 340.4,262.4 340.4,246.5 340.9,251 340.9,257.4 341.4,261.3 341.4,251.8 341.9,246 341.9,261.7 342.4,260 342.4,250.3 342.9,247.5 342.9,261.2 343.4,259.4 343.4,252.2 343.9,249.7 343.9,261.1 344.4,262 344.4,248.4 344.9,249.7 344.9,260 345.4,257.5 345.4,250.5 345.9,250 345.9,259.2 346.4,262.6 346.4,249.2 346.9,246.7 346.9,265 347.4,265.9 347.4,244.3 347.9,245.2 347.9,265.6 348.4,258.6 348.4,245.8 348.9,242.9 348.9,269.1 349.4,278.5 349.4,208 349.9,248.8 349.9,302.3 350.4,271.7 350.4,232.7 350.9,246.4 350.9,264.5 351.4,261.6 351.4,248.6 351.9,249.1 351.9,259.5 352.4,261.3 352.4,249.9 352.9,251.8 352.9,257.7 353.4,260.4 353.4,250.7 353.9,250.3 353.9,257.1 354.4,261.3 354.4,249.9 354.9,250.4 354.9,258.2 355.4,262.8 355.4,247.3 355.9,248.4 355.9,262.2 356.4,264.1 356.4,247.2 356.9,247 356.9,264 357.4,261.1 357.4,247.6 357.9,249.4 357.9,261.3 358.4,259.7 358.4,250.2 358.9,252.8 358.9,258 359.4,259.5 359.4,249.4 359.9,247.4 359.9,263.4 360.4,265.2 360.4,242.4 360.9,233.9 360.9,276.4 361.4,263.4 361.4,243.8 361.9,248.8 361.9,264 362.4,263 362.4,246.2 362.9,247.5 362.9,260 363.4,265.9 363.4,245.8 363.9,243.3 363.9,265.3 364.4,267.3 364.4,247 364.9,241 364.9,268.6 365.4,263.5 365.4,244.7 365.9,249 365.9,262.2 366.4,261.4 366.4,248.9 366.9,250.3 366.9,257.7 367.4,259.8 367.4,249.8 367.9,251 367.9,260.1 368.4,258.4 368.4,254 368.9,248.8 368.9,261.5 369.4,258.6 369.4,249.5 369.9,251.6 369.9,258.4 370.4,259.3 370.4,251 370.9,250.1 370.9,262.1 371.4,267.7 371.4,247 371.9,226.4 371.9,271.1 372.4,283.9 372.4,240.5 372.9,244.6 372.9,265.3 373.4,263.9 373.4,245.9 373.9,244.4 373.9,265.2 374.4,264.8 374.4,246.2 374.9,245.2 374.9,262.7 375.4,263.7 375.4,245.6 375.9,248.6 375.9,262.6 376.4,262.6 376.4,249.6 376.9,247.7 376.9,261.6 377.4,259.7 377.4,252 377.9,250 377.9,259.7 378.4,264.4 378.4,246.5 378.9,246.9 378.9,260.9 379.4,260.2 379.4,249.4 379.9,251.8 379.9,258.4 380.4,258.8 380.4,250.6 380.9,251.8 380.9,260.2 381.4,261.9 381.4,250.6 381.9,245 381.9,265.4 382.4,266.6 382.4,241.1 382.9,215.1 382.9,282.2 383.4,295.2 383.4,231.8 383.9,241.9 383.9,263.3 384.4,262.5 384.4,248.6 384.9,249.6 384.9,261.2 385.4,258.2 385.4,251.6 385.9,249.7 385.9,258.5 386.4,261.5 386.4,248.5 386.9,250.9 386.9,259.8 387.4,260.8 387.4,248.4 387.9,249.9 387.9,258.9 388.4,262.2 388.4,249.7 388.9,251.8 388.9,259.5 389.4,262.4 389.4,250.8 389.9,247.5 389.9,262.3 390.4,263.2 390.4,246.5 390.9,248 390.9,265 391.4,261.6 391.4,248.1 391.9,246.3 391.9,263.8 392.4,259.7 392.4,247.1 392.9,250.5 392.9,260.3 393.4,266.6 393.4,246.2 393.9,217.4 393.9,292.9 394.4,280.9 394.4,234.7 394.9,246.8 394.9,270.8 395.4,262.2 395.4,246.8 395.9,250.7 395.9,261.5 396.4,261.2 396.4,250.1 396.9,247.8 396.9,261.3 397.4,260.1 397.4,250.5 397.9,250.6 397.9,259.3 398.4,262.2 398.4,249.2 398.9,248.1 398.9,264.1 399.4,265.3 399.4,246.3 399.9,247.6 399.9,262.4 400.4,259.4 400.4,248.8 400.9,249.2 400.9,261.6 401.4,260.9 401.4,247.8 401.9,249.5 401.9,261 402.4,258.4 402.4,252.9 402.9,250.8 402.9,259.9 403.4,259.7 403.4,250.3 403.9,250.1 403.9,262.4 404.4,265.7 404.4,248.1 404.9,208 404.9,282.7 405.4,302.3 405.4,224.4 405.9,237.2 405.9,279.6 406.4,262.4 406.4,246.1 406.9,244.4 406.9,265.6 407.4,265.5 407.4,244.7 407.9,245.1 407.9,264 408.4,265.8 408.4,245.3 408.9,245.9 408.9,263.2 409.4,260.4 409.4,249.4 409.9,250.1 409.9,260.2 410.4,261.2 410.4,247.6 410.9,247.3 410.9,263.1 411.4,261.1 411.4,246.4 411.9,249.4 411.9,263.6 412.4,258.7 412.4,247.4 412.9,250.5 412.9,260.2 413.4,258.6 413.4,252.8 413.9,253.3 413.9,257.6 414.4,261.2 414.4,249.3 414.9,247.2 414.9,262.4 415.4,266.3 415.4,246.5 415.9,234.8 415.9,271.5 416.4,299 416.4,243.8 416.9,211.3 416.9,269.6 417.4,266.2 417.4,244.9 417.9,246.8 417.9,263 418.4,260.3 418.4,248.3 418.9,249.7 418.9,259.6 419.4,260.7 419.4,252.1 419.9,251.9 419.9,257 420.4,260.4 420.4,250.1 420.9,252.7 420.9,257.2 421.4,258.2 421.4,252.1 421.9,250.9 421.9,259.5 422.4,259.9 422.4,252 422.9,253.5 422.9,257.6 423.4,258.2 423.4,251.2 423.9,252.1 423.9,259.6 424.4,260.7 424.4,249.1 424.9,248.7 424.9,263.4 425.4,262.5 425.4,245.1 425.9,248.1 425.9,260.8 426.4,260.8 426.4,251.7 426.9,241.1 426.9,265.4 427.4,283 427.4,227.3 427.9,244.3 427.9,269.5 428.4,264.6 428.4,248.6 428.9,250.6 428.9,260.9 429.4,259.9 429.4,248.6 429.9,249.5 429.9,261.3 430.4,257.6 430.4,250.1 430.9,248.8 430.9,262 431.4,261.6 431.4,251.8 431.9,250.8 431.9,261.3 432.4,258.5 432.4,249.6 432.9,247.3 432.9,263.3 433.4,263.1 433.4,247.5 433.9,247.8 433.9,263.7 434.4,261.2 434.4,249.4 434.9,248.5 434.9,260.6 435.4,259.8 435.4,250 435.9,251.5 435.9,258.1 436.4,259.1 436.4,251.4 436.9,249.9 436.9,257.4 437.4,262.8 437.4,248.6 437.9,248.1 437.9,265.2 438.4,288.2 438.4,235.1 438.9,222.1 438.9,274.7 439.4,268.2 439.4,244 439.9,248.4 439.9,262.5 440.4,260.2 440.4,251.5 440.9,249.5 440.9,261.1 441.4,261 441.4,247.5 441.9,246.9 441.9,262.5 442.4,264.2 442.4,246.2 442.9,248.6 442.9,263.6 443.4,260.8 443.4,250.1 443.9,249.7 443.9,262.6 444.4,258.8 444.4,249.2 444.9,250.6 444.9,260.1 445.4,260.3 445.4,251.7 445.9,252.9 445.9,260.3 446.4,262.4 446.4,251 446.9,248.1 446.9,262 447.4,260.5 447.4,250.7 447.9,248.5 447.9,261.6 448.4,257.5 448.4,249.9 448.9,249.8 448.9,258.1 449.4,267.4 449.4,250.9 449.9,242.9 449.9,263.3 450.4,261.5 450.4,245.4 450.9,247.2 450.9,263.2 451.4,264.1 451.4,246.8 451.9,248.7 451.9,261.2 452.4,262 452.4,248.3 452.9,249.8 452.9,261.5 453.4,259.6 453.4,250.6 453.9,252.7 453.9,259.5 454.4,257.6 454.4,251.6 454.9,249.3 454.9,260.4 455.4,257.1 455.4,249 455.9,249.5 455.9,261.9 456.4,259.4 456.4,251 456.9,251.6 456.9,260.2 457.4,261.2 457.4,250.6 457.9,249 457.9,260.8 458.4,263.9 458.4,242.9 458.9,245 458.9,267.2 459.4,266.8 459.4,245 459.9,247.6 459.9,263.2 460.4,269.5 460.4,245.4 460.9,226.9 460.9,283.4 461.4,266 461.4,243.3 461.9,247.9 461.9,260.3 462.4,261.8 462.4,248 462.9,253.6 462.9,258.5 463.4,259.3 463.4,250.5 463.9,251.7 463.9,260.1 464.4,259.4 464.4,250.4 464.9,251.1 464.9,260.8 465.4,262 465.4,247.8 465.9,248 465.9,261.8 466.4,259.9 466.4,248.7 466.9,247.7 466.9,262.1 467.4,264.6 467.4,245.7 467.9,246.3 467.9,264.9 468.4,264.1 468.4,245.8 468.9,247.4 468.9,261.4 469.4,262.5 469.4,248.7 469.9,249.1 469.9,262.7 470.4,259.6 470.4,251.6 470.9,246.8 470.9,259.7 471.4,270.6 471.4,242.6 471.9,208.5 471.9,301.8 472.4,274.6 472.4,245.5 472.9,240.5 472.9,265.7 473.4,260.1 473.4,247.9 473.9,248.8 473.9,260.4 474.4,259.5 474.4,251 474.9,252.8 474.9,259.3 475.4,266 475.4,245.6 475.9,243.4 475.9,267.6 476.4,266.4 476.4,243.8 476.9,244.9 476.9,265.7 477.4,263.3 477.4,245.8 477.9,247.3 477.9,264.2 478.4,258.7 478.4,250.8 478.9,249.4 478.9,260.7 479.4,259.9 479.4,249.7 479.9,254.6 479.9,258.9 480.4,258.4 480.4,251.5 480.9,249.6 480.9,261.8 481.4,262 481.4,247.2 481.9,249.3 481.9,262.1 482.4,266.9 482.4,247.3 482.9,235.5 482.9,291 483.4,274 483.4,219.3 483.9,255.5 483.9,266.8 484.4,264.7 484.4,246.9 484.9,246 484.9,262.3 485.4,265.1 485.4,245.1 485.9,245.6 485.9,263.2 486.4,262.4 486.4,250.6 486.9,250.8 486.9,259.3 487.4,259.9 487.4,250 487.9,249.7 487.9,259.2 488.4,258.8 488.4,253.1 488.9,251.2 488.9,259.1 489.4,261.2 489.4,251.4 489.9,251.7 489.9,261.2 490.4,258.6 490.4,251.3 490.9,249.4 490.9,261.8 491.4,260.3 491.4,251.1 491.9,250.2 491.9,258.6 492.4,263.9 492.4,249 492.9,244.1 492.9,253.2" fill="none" stroke="#0874bf" stroke-width="1.45" stroke-linejoin="round"/>
<text transform="translate(107.4 337.7) scale(0.95 1)" font-size="28.2" text-anchor="middle">0</text>
<text transform="translate(201.4 337.7) scale(0.95 1)" font-size="28.2" text-anchor="middle">0.1</text>
<text transform="translate(295.3 337.7) scale(0.95 1)" font-size="28.2" text-anchor="middle">0.2</text>
<text transform="translate(389.3 337.7) scale(0.95 1)" font-size="28.2" text-anchor="middle">0.3</text>
<text transform="translate(483.2 337.7) scale(0.95 1)" font-size="28.2" text-anchor="middle">0.4</text>
<text transform="translate(97.2 230) scale(0.95 1)" font-size="28.2" text-anchor="end">0.2</text>
<text transform="translate(97.2 264.4) scale(0.95 1)" font-size="28.2" text-anchor="end">0</text>
<text transform="translate(97.2 298.9) scale(0.95 1)" font-size="28.2" text-anchor="end">-0.2</text>
<text x="299.3" y="195.9" font-size="27.3" text-anchor="middle">IMF2</text>
<text transform="translate(24.1 255.2) rotate(-90)" font-size="27.3" text-anchor="middle">Amplitude</text>
<path d="M744.5 208V302.3M873 208V302.3M616.1 255.2H1001.5" stroke="#dedede" stroke-width="1.2" fill="none"/>
<path d="M616.1 302.3v-4.2M616.1 208v4.2M744.5 302.3v-4.2M744.5 208v4.2M873 302.3v-4.2M873 208v4.2M1001.5 302.3v-4.2M1001.5 208v4.2M616.1 208h4.2M1001.5 208h-4.2M616.1 255.2h4.2M1001.5 255.2h-4.2M616.1 302.3h4.2M1001.5 302.3h-4.2" stroke="#262626" stroke-width="1.3" fill="none"/>
<rect x="616.1" y="208" width="385.4" height="94.3" stroke="#262626" stroke-width="1.3" fill="none"/>
<polyline points="616.1,295.7 617.7,288 619.2,292.2 620.8,299.1 622.4,297.7 623.9,293.1 625.5,295 627.1,292.6 628.6,300.8 630.2,288.8 631.8,289.3 633.3,299.8 634.9,297.5 636.5,297.9 638.1,296.8 639.6,292.8 641.2,297.2 642.8,298.5 644.3,293 645.9,290.9 647.5,296.2 649,295.2 650.6,299.6 652.2,291.6 653.7,287 655.3,292.2 656.9,295.6 658.4,299.5 660,291.7 661.6,294.3 663.1,288 664.7,284.8 666.3,283.6 667.8,278.4 669.4,249.9 671,226.4 672.5,264.4 674.1,283.4 675.7,291.3 677.3,297 678.8,293.7 680.4,292.6 682,295.8 683.5,290.2 685.1,278.2 686.7,251.8 688.2,283.9 689.8,290.3 691.4,282 692.9,294 694.5,298 696.1,298 697.6,299.8 699.2,299.2 700.8,300.7 702.3,299 703.9,300.6 705.5,300.7 707,292.8 708.6,295.2 710.2,293.5 711.7,288.1 713.3,287.8 714.9,287.5 716.5,293 718,290.1 719.6,289.6 721.2,282.9 722.7,265.3 724.3,223.1 725.9,267.6 727.4,285.7 729,297.3 730.6,296.2 732.1,293.1 733.7,291.7 735.3,287.6 736.8,289.6 738.4,301 740,296 741.5,291.1 743.1,292.1 744.7,300.5 746.2,293.3 747.8,294.7 749.4,300.1 750.9,301.4 752.5,296 754.1,288 755.7,287.2 757.2,291.1 758.8,291 760.4,291.1 761.9,296.1 763.5,297.7 765.1,295.6 766.6,301 768.2,296 769.8,300.7 771.3,296.6 772.9,294.3 774.5,295.3 776,294.6 777.6,279.2 779.2,223.1 780.7,279.7 782.3,294.9 783.9,293.4 785.4,292.5 787,295.8 788.6,297.7 790.1,294 791.7,296.4 793.3,288.5 794.9,289.8 796.4,289.4 798,299.1 799.6,298.6 801.1,298.1 802.7,301.2 804.3,298.4 805.8,293.6 807.4,299.7 809,297 810.5,287 812.1,285 813.7,291.5 815.2,296.2 816.8,298.7 818.4,297.7 819.9,295.7 821.5,298.1 823.1,296.3 824.6,297.5 826.2,295.4 827.8,289.2 829.3,291.2 830.9,293.1 832.5,271.9 834.1,249.5 835.6,273.8 837.2,293.9 838.8,293 840.3,296.1 841.9,298.4 843.5,295.1 845,289 846.6,298.1 848.2,297.3 849.7,293.1 851.3,297.7 852.9,298.1 854.4,296.2 856,301.3 857.6,295.8 859.1,301 860.7,296.4 862.3,292.6 863.8,290.3 865.4,298.4 867,295.8 868.5,296.2 870.1,301.5 871.7,297.4 873.3,295.3 874.8,293.3 876.4,288.7 878,294.9 879.5,296.2 881.1,296 882.7,294.7 884.2,289.6 885.8,272.2 887.4,239.1 888.9,285.7 890.5,295.3 892.1,299.6 893.6,297 895.2,300 896.8,295.5 898.3,291.9 899.9,299.4 901.5,299.5 903,297.1 904.6,298.5 906.2,297.3 907.7,298.8 909.3,293.6 910.9,295.1 912.5,297.7 914,299.2 915.6,300.2 917.2,296.5 918.7,294.3 920.3,298.5 921.9,294.3 923.4,293.5 925,298.2 926.6,294.3 928.1,297.5 929.7,300.8 931.3,296.6 932.8,291.5 934.4,294.3 936,295.5 937.5,292.1 939.1,290.3 940.7,281.4 942.2,251.8 943.8,287 945.4,298.6 946.9,290.1 948.5,293.7 950.1,301.7 951.7,295.1 953.2,301.6 954.8,296.4 956.4,293.5 957.9,296.7 959.5,293.7 961.1,294.2 962.6,301.5 964.2,298 965.8,295.6 967.3,299.5 968.9,301.9 970.5,292.3 972,295.9 973.6,299.8 975.2,300.9 976.7,297.4 978.3,293.1 979.9,298.3 981.4,295.4 983,295.9 984.6,297.7 986.1,296.9 987.7,296.8 989.3,300.2 990.9,299.3 992.4,288.6 994,271.9 995.6,265.1 997.1,290.3 998.7,294.5 1000.3,298.3" fill="none" stroke="#1414dc" stroke-width="1.15" stroke-linejoin="round"/>
<circle cx="671" cy="226.4" r="2.9" fill="#e8121c"/>
<circle cx="724.3" cy="223.1" r="2.9" fill="#e8121c"/>
<circle cx="779.2" cy="223.1" r="2.9" fill="#e8121c"/>
<circle cx="834.1" cy="249.5" r="2.9" fill="#e8121c"/>
<circle cx="887.4" cy="239.1" r="2.9" fill="#e8121c"/>
<circle cx="942.2" cy="251.8" r="2.9" fill="#e8121c"/>
<text transform="translate(615.8 337.7) scale(0.95 1)" font-size="28.2" text-anchor="middle">0</text>
<text transform="translate(744.2 337.7) scale(0.95 1)" font-size="28.2" text-anchor="middle">200</text>
<text transform="translate(872.7 337.7) scale(0.95 1)" font-size="28.2" text-anchor="middle">400</text>
<text transform="translate(1001.2 337.7) scale(0.95 1)" font-size="28.2" text-anchor="middle">600</text>
<text transform="translate(605.4 217.3) scale(0.95 1)" font-size="28.2" text-anchor="end">0.02</text>
<text transform="translate(605.4 264.4) scale(0.95 1)" font-size="28.2" text-anchor="end">0.01</text>
<text transform="translate(605.4 311.6) scale(0.95 1)" font-size="28.2" text-anchor="end">0</text>
<text transform="translate(543.8 255) rotate(-90)" font-size="27.3" text-anchor="middle">Amplitude</text>
<path d="M108.2 476v-4.2M108.2 381.7v4.2M202.2 476v-4.2M202.2 381.7v4.2M296.1 476v-4.2M296.1 381.7v4.2M390.1 476v-4.2M390.1 381.7v4.2M484 476v-4.2M484 381.7v4.2M108.2 381.7h4.2M493.6 381.7h-4.2M108.2 428.9h4.2M493.6 428.9h-4.2M108.2 476h4.2M493.6 476h-4.2" stroke="#262626" stroke-width="1.3" fill="none"/>
<rect x="108.2" y="381.7" width="385.4" height="94.3" stroke="#262626" stroke-width="1.3" fill="none"/>
<polyline points="108.5,437.1 108.5,420.7 109,421.3 109,435 109.5,434.1 109.5,425.2 110,424.8 110,431.5 110.5,431.1 110.5,424.8 111,425.6 111,431.5 111.5,434.2 111.5,421.9 112,425.5 112,434.3 112.5,430 112.5,426.2 113,423.8 113,432.9 113.5,434.6 113.5,421.9 114,427.1 114,435.2 114.5,434.9 114.5,422.7 115,422 115,435.8 115.5,436.3 115.5,423.5 116,416.8 116,448 116.5,455.3 116.5,402.4 117,415.5 117,441.4 117.5,436 117.5,417.1 118,426.1 118,436.3 118.5,435.9 118.5,423.3 119,423.7 119,433.6 119.5,431.9 119.5,423 120,424.3 120,434.5 120.5,432 120.5,420.9 121,424.9 121,438.2 121.5,431.6 121.5,426.3 122,423.8 122,432.4 122.5,434.8 122.5,421.2 123,420.7 123,438.6 123.5,436 123.5,417.7 124,420.3 124,431.8 124.5,437.1 124.5,427.5 125,417.5 125,439.4 125.5,439.3 125.5,419 126,426.7 126,435 126.5,434.3 126.5,419.7 127,410.1 127,443.4 127.5,465.6 127.5,404.1 128,392.1 128,450.3 128.4,429 128.4,413.3 128.9,422.4 128.9,439.1 129.4,433.7 129.4,422.7 129.9,422.4 129.9,433.9 130.4,435.6 130.4,425.1 130.9,426 130.9,430.2 131.4,433.6 131.4,424.4 131.9,426.9 131.9,436.7 132.4,434.1 132.4,418.1 132.9,416.9 132.9,443.5 133.4,439.9 133.4,419 133.9,420.2 133.9,438.6 134.4,434.6 134.4,421.7 134.9,419.8 134.9,438.1 135.4,433.3 135.4,426.4 135.9,425.3 135.9,432.3 136.4,431.4 136.4,426.8 136.9,425.1 136.9,431.3 137.4,434.7 137.4,426.6 137.9,419.1 137.9,441.6 138.4,463.7 138.4,405.5 138.9,394 138.9,453.6 139.4,436.9 139.4,412.3 139.9,421.2 139.9,439.5 140.4,433.4 140.4,423.5 140.9,422.1 140.9,437 141.4,436.6 141.4,420.4 141.9,419.5 141.9,439.4 142.4,435.7 142.4,419.4 142.9,423.3 142.9,434.7 143.4,437.5 143.4,421 143.9,422.7 143.9,434.1 144.4,433.3 144.4,424.9 144.9,423.7 144.9,431.9 145.4,436.5 145.4,419.5 145.9,419.2 145.9,437.9 146.4,437.7 146.4,418.8 146.9,423.5 146.9,436.1 147.4,433.1 147.4,421.8 147.9,423.6 147.9,438.7 148.4,439.8 148.4,418.3 148.9,420.5 148.9,437.1 149.4,444.4 149.4,415.8 149.9,406.7 149.9,451 150.4,443.1 150.4,414.4 150.9,416.1 150.9,441.5 151.4,439.7 151.4,417.4 151.9,421.4 151.9,435.1 152.4,435.8 152.4,422.6 152.9,429.1 152.9,435.7 153.4,437 153.4,419.5 153.9,423.1 153.9,433.8 154.4,436.8 154.4,423.5 154.9,422.4 154.9,434.8 155.4,430.3 155.4,423.5 155.9,425.3 155.9,433.3 156.4,436.1 156.4,422.7 156.9,422.7 156.9,432.7 157.4,435.2 157.4,425.7 157.9,420.8 157.9,437.7 158.4,438.6 158.4,418.2 158.9,418.6 158.9,440.6 159.4,442.3 159.4,415.8 159.9,412.2 159.9,435.2 160.4,448.6 160.4,400.5 160.9,385.9 160.9,471.8 161.4,446.6 161.4,404.6 161.9,414.9 161.9,441.8 162.4,441.9 162.4,415.2 162.9,419 162.9,433.6 163.4,430.5 163.4,426 163.9,425.1 163.9,433.6 164.4,430.1 164.4,423.9 164.9,426.6 164.9,436.4 165.4,433.5 165.4,421.2 165.9,421.1 165.9,435.5 166.4,435.6 166.4,424.8 166.9,415.9 166.9,431.5 167.4,443.3 167.4,414.8 167.9,419.8 167.9,440.2 168.4,439.8 168.4,418 168.9,412.7 168.9,445 169.4,437 169.4,415.4 169.9,425.6 169.9,427.5 170.4,433.1 170.4,421.4 170.9,421.9 170.9,435.7 171.4,448.2 171.4,420.8 171.9,409.5 171.9,438.5 172.4,440.3 172.4,425.7 172.9,420 172.9,435.9 173.4,432.4 173.4,425.7 173.9,423.5 173.9,431.6 174.4,435.5 174.4,421.2 174.9,425.2 174.9,436.2 175.4,443.5 175.4,420.6 175.9,415.4 175.9,435.2 176.4,442.9 176.4,418.9 176.9,415.1 176.9,436.4 177.4,445.4 177.4,412.3 177.9,420 177.9,440.2 178.4,432.9 178.4,421.9 178.9,425.5 178.9,433.2 179.4,437.9 179.4,423.8 179.9,419.7 179.9,436.2 180.4,438.4 180.4,419.8 180.9,422.2 180.9,435 181.4,433.8 181.4,424.8 181.9,423 181.9,434.5 182.4,437.1 182.4,418.5 182.9,419.1 182.9,439.2 183.4,436.3 183.4,420.7 183.9,421.9 183.9,434.9 184.4,438.7 184.4,418.4 184.9,419.2 184.9,438.6 185.4,430.6 185.4,421.7 185.9,422.3 185.9,436 186.4,440 186.4,422.9 186.9,418.3 186.9,436.6 187.4,435.5 187.4,421.6 187.9,419 187.9,440.3 188.4,432.6 188.4,422.1 188.9,427.8 188.9,434.9 189.4,439.8 189.4,419.6 189.9,422.1 189.9,436.4 190.4,432.2 190.4,426.5 190.9,423.1 190.9,433 191.4,435 191.4,423.1 191.9,424 191.9,434.4 192.4,435.2 192.4,419.3 192.9,419.8 192.9,438.7 193.4,443.7 193.4,416.7 193.9,408.7 193.9,452.4 194.4,447.6 194.4,405.3 194.9,416.9 194.9,444.9 195.4,439.7 195.4,420.7 195.9,422.8 195.9,436.1 196.4,435.7 196.4,418.9 196.9,422.3 196.9,431.2 197.4,437.3 197.4,423.3 197.9,426 197.9,432.4 198.4,432.6 198.4,426.9 198.9,427 198.9,430.9 199.4,431.7 199.4,423.3 199.9,423 199.9,434.1 200.4,426.9 200.4,424 200.9,424.1 200.9,435.1 201.4,435.8 201.4,421.1 201.9,412.9 201.9,441.2 202.4,443.2 202.4,417.9 202.9,419.9 202.9,437.4 203.4,428.6 203.4,423.3 203.9,420.2 203.9,436.1 204.4,436.7 204.4,420.2 204.9,410.9 204.9,435.9 205.4,434.9 205.4,416.4 205.9,420.4 205.9,446.8 206.4,435.4 206.4,427.9 206.9,425.2 206.9,431.8 207.4,433.2 207.4,422.4 207.9,424 207.9,433.5 208.4,432.7 208.4,425.9 208.9,423.6 208.9,435.6 209.4,435.6 209.4,421.4 209.9,421.5 209.9,438.7 210.4,440.6 210.4,417.4 210.9,418.9 210.9,441.6 211.4,439.3 211.4,414.9 211.9,423.1 211.9,432.7 212.4,436 212.4,421.5 212.9,420.9 212.9,435 213.4,429 213.4,424.2 213.9,430.2 213.9,433.4 214.4,435.6 214.4,420.2 214.9,422.9 214.9,434.4 215.4,438.9 215.4,421 215.9,417.2 215.9,446.4 216.4,461.4 216.4,416.8 216.9,396.3 216.9,444.3 217.4,437.5 217.4,418.7 217.9,421.5 217.9,437.4 218.4,436.2 218.4,420.4 218.9,420.7 218.9,431.9 219.4,437.1 219.4,420.3 219.9,426.8 219.9,435.7 220.4,432.4 220.4,422.8 220.9,421.5 220.9,435.8 221.4,437.5 221.4,421.5 221.9,424.7 221.9,435.9 222.4,433.3 222.4,423.6 222.9,419.9 222.9,438.3 223.4,434.1 223.4,420 223.9,424.4 223.9,435.4 224.4,438 224.4,421.5 224.9,417.8 224.9,438.9 225.4,435.8 225.4,418.9 225.9,422.7 225.9,431.3 226.4,439.6 226.4,423.2 226.9,414.6 226.9,434.6 227.4,453.8 227.4,403.9 227.9,412 227.9,446.1 228.4,439.4 228.4,414.5 228.9,420.3 228.9,438 229.4,436.6 229.4,421.3 229.9,421.3 229.9,438.9 230.4,434.8 230.4,419.9 230.9,423.7 230.9,434.4 231.4,433.7 231.4,422.8 231.9,425.6 231.9,429.8 232.4,432.2 232.4,423.2 232.9,423.8 232.9,433.7 233.4,434.7 233.4,423.6 233.9,420.8 233.9,434.8 234.4,435.9 234.4,426.6 234.9,423.4 234.9,427.3 235.4,439 235.4,418.8 235.9,419.7 235.9,443.1 236.4,442.3 236.4,413.5 236.9,419.2 236.9,427 237.4,439.9 237.4,424.8 237.9,416.1 237.9,423.2 238.4,468.9 238.4,440.3 238.9,388.8 238.9,459.2 239.4,448.1 239.4,414.7 239.9,419.2 239.9,438 240.4,434.1 240.4,419.9 240.9,423.4 240.9,433.6 241.4,432.6 241.4,424 241.9,423.8 241.9,435.3 242.4,433.2 242.4,425 242.9,420.9 242.9,435.4 243.4,434.8 243.4,424.3 243.9,419.6 243.9,442.2 244.4,433.7 244.4,415.4 244.9,414.5 244.9,443 245.4,442.7 245.4,415.8 245.9,417.6 245.9,438.3 246.4,435.6 246.4,421.5 246.9,424.9 246.9,435.9 247.4,438.1 247.4,420.7 247.9,418.5 247.9,437.2 248.4,434.1 248.4,423.9 248.9,420.6 248.9,440.9 249.4,455.3 249.4,413.8 249.9,402.4 249.9,446 250.4,437.7 250.4,414.6 250.9,421.9 250.9,437.3 251.4,434.2 251.4,423.9 251.9,423.4 251.9,432 252.4,435.8 252.4,419.5 252.9,421 252.9,438 253.4,437.1 253.4,420.6 253.9,418.9 253.9,435.9 254.4,438 254.4,423.8 254.9,422.6 254.9,434.4 255.4,433.7 255.4,422.7 255.9,429.7 255.9,432.4 256.4,432.8 256.4,424.1 256.9,424.1 256.9,433.5 257.4,434.9 257.4,422.9 257.9,429.7 257.9,433.2 258.4,431.9 258.4,424.4 258.9,425.3 258.9,430.2 259.4,432.6 259.4,420.5 259.9,421.1 259.9,439.1 260.4,464.2 260.4,414.8 260.9,393.5 260.9,450.8 261.4,455.6 261.4,408.6 261.9,415.9 261.9,445.2 262.4,440.9 262.4,416.1 262.9,418.4 262.9,438.4 263.4,441.4 263.4,416.9 263.9,422.2 263.9,439.4 264.4,434 264.4,420.6 264.9,417.1 264.9,437.5 265.4,439.7 265.4,423.3 265.9,420 265.9,433.8 266.4,438.6 266.4,419.5 266.9,418.2 266.9,439.4 267.4,427.7 267.4,424.6 267.9,427.2 267.9,432.2 268.4,432.4 268.4,424 268.9,423.7 268.9,433 269.4,434.6 269.4,424.4 269.9,423.8 269.9,436 270.4,437.5 270.4,420.7 270.9,419.2 270.9,439.2 271.4,460 271.4,413.6 271.9,412.1 271.9,446.8 272.4,444.9 272.4,397.7 272.9,416.5 272.9,438.9 273.4,436.4 273.4,427.9 273.9,419.6 273.9,435.5 274.4,436.5 274.4,424.9 274.9,426.9 274.9,430.4 275.4,433 275.4,425.2 275.9,426.1 275.9,433.5 276.4,432.1 276.4,423.4 276.9,427.5 276.9,432.4 277.4,435.6 277.4,424.7 277.9,420.8 277.9,434.4 278.4,436.2 278.4,421 278.9,418.1 278.9,438.5 279.4,438.6 279.4,419.5 279.9,422.4 279.9,436.9 280.4,436.4 280.4,423.9 280.9,424.4 280.9,432.4 281.4,431.5 281.4,425.8 281.9,425.3 281.9,434.8 282.4,437.9 282.4,422.3 282.9,415 282.9,442.6 283.4,446.8 283.4,410.9 283.9,427.6 283.9,439 284.4,440.2 284.4,418.5 284.9,424.1 284.9,436.7 285.4,435.7 285.4,423.8 285.9,422.7 285.9,433.1 286.4,434.4 286.4,422.9 286.9,420.4 286.9,435.5 287.4,441.5 287.4,421 287.9,418 287.9,436.8 288.4,439.9 288.4,420.7 288.9,418.3 288.9,436.2 289.4,432.1 289.4,425.7 289.9,424.1 289.9,434.9 290.4,432.4 290.4,422.9 290.9,425.5 290.9,433.5 291.4,434.5 291.4,424.1 291.9,422.9 291.9,431.1 292.4,433.9 292.4,423.3 292.9,420.2 292.9,434.4 293.4,440 293.4,419.6 293.9,414.4 293.9,441 294.4,450.5 294.4,407.2 294.9,415.7 294.9,436.7 295.4,437.5 295.4,419.6 295.9,423.6 295.9,436.8 296.4,438.6 296.4,419.5 296.9,422.7 296.9,436 297.4,433.4 297.4,423 297.9,422.4 297.9,437.1 298.4,433.9 298.4,429.3 298.9,424.9 298.9,427.4 299.4,434.7 299.4,421.4 299.9,423.9 299.9,434.6 300.4,435.5 300.4,422.6 300.9,422.7 300.9,433.1 301.4,433.6 301.4,425.6 301.9,423 301.9,434.1 302.4,430 302.4,426.2 302.9,426.3 302.9,432 303.4,436.8 303.4,424.1 303.9,419.8 303.9,439.7 304.4,430.1 304.4,417.9 304.9,414.4 304.9,458.1 305.4,440.9 305.4,399.6 305.9,413.9 305.9,446.7 306.4,438.2 306.4,422.7 306.9,417.2 306.9,436.6 307.4,438.8 307.4,422.1 307.9,424.3 307.9,430 308.4,435 308.4,420.8 308.9,425.2 308.9,432.4 309.4,431.4 309.4,427.6 309.9,422.1 309.9,438.7 310.4,436.5 310.4,420.3 310.9,428.6 310.9,432.6 311.4,435.8 311.4,421.5 311.9,423.7 311.9,432.5 312.4,433.4 312.4,422.7 312.9,419 312.9,437.8 313.4,441.4 313.4,414.5 313.9,423.5 313.9,441.3 314.4,427.4 314.4,418.2 314.9,421 314.9,437 315.4,437.9 315.4,431.8 315.9,414.2 315.9,460.9 316.4,441.2 316.4,396.8 316.9,419.1 316.9,447.1 317.4,432.4 317.4,417.2 317.9,422.6 317.9,436.1 318.4,433.9 318.4,419.9 318.9,419.7 318.9,439.8 319.4,438.9 319.4,423.4 319.9,420 319.9,436.1 320.4,437.9 320.4,422.9 320.9,420.3 320.9,436.7 321.4,434.4 321.4,424.2 321.9,421.5 321.9,438.5 322.4,435.8 322.4,420.2 322.9,418.8 322.9,437 323.4,434.9 323.4,423.4 323.9,426.4 323.9,428.8 324.4,434.1 324.4,425.6 324.9,422.6 324.9,434.1 325.4,433.4 325.4,425.1 325.9,423.3 325.9,434 326.4,437.1 326.4,422 326.9,417.6 326.9,445.3 327.4,467.5 327.4,390.2 327.9,408.6 327.9,447.3 328.4,440.9 328.4,415.8 328.9,419.6 328.9,437.1 329.4,435.1 329.4,420.7 329.9,419.5 329.9,440.1 330.4,439.6 330.4,417.8 330.9,417.8 330.9,441.2 331.4,438.3 331.4,427.9 331.9,421 331.9,437.3 332.4,435.9 332.4,423.4 332.9,427.6 332.9,431.1 333.4,435.7 333.4,416.9 333.9,415.5 333.9,443 334.4,436.8 334.4,419.4 334.9,422.2 334.9,438.7 335.4,430.2 335.4,427.3 335.9,425.2 335.9,433.2 336.4,434.3 336.4,423.2 336.9,421.2 336.9,433.6 337.4,437 337.4,419.8 337.9,412.9 337.9,439.3 338.4,460.4 338.4,397.3 338.9,407.4 338.9,437 339.4,448.7 339.4,412.2 339.9,419.6 339.9,442.1 340.4,435.2 340.4,422.8 340.9,423.7 340.9,428.1 341.4,435.2 341.4,420.5 341.9,428.2 341.9,435.7 342.4,435.2 342.4,422.1 342.9,421.5 342.9,437.7 343.4,434.2 343.4,424.7 343.9,425.6 343.9,430.9 344.4,435.9 344.4,421.3 344.9,425.1 344.9,434.4 345.4,435.9 345.4,422.8 345.9,420.5 345.9,436.8 346.4,432.7 346.4,427.1 346.9,423.2 346.9,436.2 347.4,436.3 347.4,418 347.9,414.7 347.9,440.5 348.4,440.3 348.4,418.6 348.9,417.7 348.9,439.7 349.4,441.9 349.4,404.3 349.9,413.3 349.9,453.4 350.4,439.4 350.4,417.9 350.9,420.1 350.9,431.9 351.4,435.9 351.4,428.8 351.9,423.3 351.9,434.6 352.4,434.3 352.4,425 352.9,423.4 352.9,430.4 353.4,432 353.4,422.1 353.9,424 353.9,434.2 354.4,436 354.4,422.6 354.9,420.2 354.9,436.7 355.4,436.2 355.4,421.5 355.9,420.9 355.9,434.1 356.4,438.4 356.4,419.1 356.9,415.3 356.9,440.5 357.4,439.7 357.4,424.1 357.9,422.9 357.9,434.5 358.4,437.7 358.4,419.4 358.9,429.6 358.9,435.3 359.4,432.8 359.4,422.9 359.9,425.4 359.9,434 360.4,440.9 360.4,420.1 360.9,411.4 360.9,446.3 361.4,436.7 361.4,421 361.9,422.1 361.9,435.4 362.4,437.2 362.4,422.6 362.9,420.5 362.9,436.7 363.4,428.6 363.4,423.8 363.9,421.7 363.9,434.9 364.4,435.3 364.4,420.3 364.9,418.9 364.9,433.7 365.4,439.8 365.4,419.5 365.9,423.6 365.9,435.3 366.4,434.4 366.4,422 366.9,424.8 366.9,433.5 367.4,433.4 367.4,423.9 367.9,426.6 367.9,432.2 368.4,434.1 368.4,422.4 368.9,426 368.9,430.1 369.4,433.8 369.4,427.1 369.9,422.1 369.9,432.3 370.4,436 370.4,425.8 370.9,421.4 370.9,437.5 371.4,432.9 371.4,416.3 371.9,412.4 371.9,451 372.4,442.9 372.4,406.7 372.9,416.8 372.9,434.3 373.4,439.9 373.4,416.8 373.9,421.6 373.9,438.9 374.4,437 374.4,422 374.9,420 374.9,436.1 375.4,438.3 375.4,420.5 375.9,424.9 375.9,433.1 376.4,436.9 376.4,418.6 376.9,425.6 376.9,437.3 377.4,427.3 377.4,425.8 377.9,424.4 377.9,434.3 378.4,432.1 378.4,422.1 378.9,425.9 378.9,431.5 379.4,433.8 379.4,424.3 379.9,426.3 379.9,431.2 380.4,427.4 380.4,426.2 380.9,425.5 380.9,434.7 381.4,439.4 381.4,421.3 381.9,417.2 381.9,441.1 382.4,439.8 382.4,415.7 382.9,397.3 382.9,460.4 383.4,449.9 383.4,405.8 383.9,414.6 383.9,439.9 384.4,434.2 384.4,421 384.9,421.6 384.9,438.1 385.4,434 385.4,420.1 385.9,419.9 385.9,441.7 386.4,440.4 386.4,423.4 386.9,417 386.9,434.5 387.4,436.8 387.4,427.3 387.9,421.6 387.9,434.3 388.4,435.4 388.4,430.2 388.9,420.9 388.9,436.9 389.4,434.4 389.4,423.2 389.9,420.6 389.9,435.7 390.4,439.2 390.4,419.5 390.9,418.2 390.9,439.5 391.4,436.5 391.4,419.6 391.9,420.5 391.9,436.6 392.4,434.1 392.4,422.4 392.9,423.5 392.9,436.1 393.4,439.6 393.4,419.6 393.9,404.8 393.9,444 394.4,452.9 394.4,414.4 394.9,412.4 394.9,441.2 395.4,434.9 395.4,421.3 395.9,424.5 395.9,436.7 396.4,433.9 396.4,424.8 396.9,425 396.9,434.3 397.4,436.3 397.4,420.9 397.9,420.2 397.9,438.1 398.4,440.5 398.4,419.6 398.9,418.1 398.9,437.5 399.4,441.4 399.4,416.2 399.9,424.2 399.9,438.2 400.4,435.9 400.4,421.2 400.9,421.2 400.9,436.7 401.4,431.6 401.4,422.2 401.9,419.6 401.9,439.1 402.4,434.4 402.4,424.7 402.9,420.7 402.9,435 403.4,434.1 403.4,426.7 403.9,422.5 403.9,430.6 404.4,434.3 404.4,428 404.9,424.5 404.9,432.9 405.4,432.4 405.4,424.8 405.9,426.6 405.9,432.8 406.4,431.9 406.4,421.9 406.9,418.9 406.9,436.8 407.4,438.8 407.4,418.6 407.9,427.2 407.9,438 408.4,443.5 408.4,415.1 408.9,422.7 408.9,443.8 409.4,450.5 409.4,407.2 409.9,417 409.9,439.2 410.4,435.1 410.4,419.5 410.9,420.6 410.9,432.8 411.4,437.8 411.4,424.2 411.9,425.3 411.9,431.2 412.4,435.2 412.4,423.1 412.9,424 412.9,435.4 413.4,430.8 413.4,423 413.9,426.3 413.9,434.7 414.4,439.1 414.4,417.7 414.9,420.8 414.9,427.7 415.4,443.2 415.4,420.3 415.9,408.4 415.9,457.2 416.4,454.2 416.4,384.5 416.9,410.4 416.9,473.2 417.4,441.6 417.4,410.6 417.9,417.8 417.9,430.4 418.4,437.9 418.4,419.5 418.9,422.9 418.9,434.9 419.4,431.9 419.4,419.9 419.9,422.5 419.9,438.6 420.4,433.8 420.4,421.7 420.9,422.9 420.9,436.4 421.4,434.3 421.4,423.1 421.9,427 421.9,433.8 422.4,432.4 422.4,424.9 422.9,426.1 422.9,432.1 423.4,435.9 423.4,423.1 423.9,423.2 423.9,435.4 424.4,435 424.4,422.3 424.9,417 424.9,437.1 425.4,438.9 425.4,420.9 425.9,420.9 425.9,435 426.4,434 426.4,422.7 426.9,419.5 426.9,437.3 427.4,447.7 427.4,410 427.9,415.9 427.9,436.4 428.4,443.2 428.4,412.5 428.9,420.3 428.9,444.6 429.4,434.1 429.4,423.4 429.9,423.9 429.9,436.3 430.4,433.8 430.4,423.1 430.9,425.9 430.9,432.3 431.4,430.5 431.4,424.6 431.9,422.5 431.9,436 432.4,434.4 432.4,422.4 432.9,421.5 432.9,438.2 433.4,436.7 433.4,417.8 433.9,417 433.9,441.6 434.4,439.6 434.4,421.3 434.9,418.1 434.9,436.1 435.4,434.6 435.4,422.5 435.9,421.5 435.9,436.8 436.4,430.3 436.4,423.8 436.9,420.6 436.9,433.7 437.4,440.6 437.4,419.9 437.9,418.5 437.9,432 438.4,451 438.4,435.2 438.9,406.7 438.9,437.3 439.4,442.3 439.4,420.6 439.9,425.5 439.9,434 440.4,430.9 440.4,424.3 440.9,423 440.9,434.5 441.4,435.9 441.4,423.4 441.9,420.9 441.9,435.9 442.4,438.1 442.4,421.4 442.9,420.3 442.9,435.1 443.4,435.6 443.4,422.4 443.9,420 443.9,437.3 444.4,440 444.4,421.4 444.9,419.2 444.9,432.6 445.4,434.3 445.4,419.4 445.9,425.1 445.9,437.3 446.4,433.3 446.4,424.7 446.9,422.4 446.9,433.3 447.4,433.5 447.4,426.4 447.9,421.7 447.9,433.2 448.4,436.2 448.4,424.1 448.9,428.2 448.9,433.8 449.4,431.4 449.4,424.3 449.9,422.2 449.9,438.6 450.4,440.4 450.4,417.3 450.9,415.2 450.9,442.5 451.4,439.2 451.4,415.2 451.9,420.7 451.9,433.9 452.4,435.5 452.4,425 452.9,423.3 452.9,434.1 453.4,432.8 453.4,429 453.9,421.4 453.9,433.4 454.4,434.3 454.4,426.5 454.9,420.8 454.9,437.8 455.4,434.6 455.4,420.9 455.9,422.8 455.9,430.2 456.4,435.6 456.4,422.1 456.9,424 456.9,433 457.4,434.7 457.4,420.1 457.9,423.2 457.9,438 458.4,434.1 458.4,424.5 458.9,423.3 458.9,430.7 459.4,436.9 459.4,421.2 459.9,419.7 459.9,432.3 460.4,454.3 460.4,416.6 460.9,403.4 460.9,445.1 461.4,439.7 461.4,412.9 461.9,421.4 461.9,435 462.4,434.4 462.4,424.7 462.9,424.1 462.9,432.4 463.4,434.2 463.4,422 463.9,428.2 463.9,432 464.4,431.1 464.4,424.4 464.9,426 464.9,432.3 465.4,434.2 465.4,422.1 465.9,423.4 465.9,435.7 466.4,433.6 466.4,422.6 466.9,422.6 466.9,435.6 467.4,433.8 467.4,419 467.9,422.7 467.9,439.9 468.4,438.2 468.4,420.4 468.9,421 468.9,439.1 469.4,437.3 469.4,423.4 469.9,418 469.9,434.8 470.4,438 470.4,425.6 470.9,424.4 470.9,433.3 471.4,432.1 471.4,424.5 471.9,427.5 471.9,433.7 472.4,436.8 472.4,419.6 472.9,418.5 472.9,440 473.4,437.4 473.4,425.3 473.9,424.5 473.9,434 474.4,429.8 474.4,423.6 474.9,422.6 474.9,436 475.4,440.2 475.4,423.1 475.9,416.9 475.9,443 476.4,433.3 476.4,411.9 476.9,422.6 476.9,445.8 477.4,439.7 477.4,415.4 477.9,419.8 477.9,436.1 478.4,431.8 478.4,422.5 478.9,424.7 478.9,431.3 479.4,432.8 479.4,426.3 479.9,424.6 479.9,433.6 480.4,435.9 480.4,424 480.9,423.3 480.9,436.1 481.4,433 481.4,424.2 481.9,422 481.9,428.9 482.4,437.6 482.4,418.6 482.9,420.9 482.9,436.2 483.4,437.2 483.4,428.5 483.9,417.2 483.9,442.2 484.4,438 484.4,418.3 484.9,425.8 484.9,438.6 485.4,436.7 485.4,415.8 485.9,415.9 485.9,444.4 486.4,439.2 486.4,413.3 486.9,416.3 486.9,437.2 487.4,437 487.4,421.7 487.9,419.1 487.9,437.9 488.4,438.6 488.4,422.9 488.9,419.8 488.9,439.7 489.4,437.8 489.4,423 489.9,425.3 489.9,437.8 490.4,430.4 490.4,421.6 490.9,427 490.9,433.5 491.4,430.5 491.4,423.3 491.9,424.8 491.9,433.3 492.4,433.6 492.4,423 492.9,428.6 492.9,438.2" fill="none" stroke="#0874bf" stroke-width="1.45" stroke-linejoin="round"/>
<text transform="translate(107.4 511.4) scale(0.95 1)" font-size="28.2" text-anchor="middle">0</text>
<text transform="translate(201.4 511.4) scale(0.95 1)" font-size="28.2" text-anchor="middle">0.1</text>
<text transform="translate(295.3 511.4) scale(0.95 1)" font-size="28.2" text-anchor="middle">0.2</text>
<text transform="translate(389.3 511.4) scale(0.95 1)" font-size="28.2" text-anchor="middle">0.3</text>
<text transform="translate(483.2 511.4) scale(0.95 1)" font-size="28.2" text-anchor="middle">0.4</text>
<text transform="translate(97.2 391) scale(0.95 1)" font-size="28.2" text-anchor="end">0.1</text>
<text transform="translate(97.2 438.2) scale(0.95 1)" font-size="28.2" text-anchor="end">0</text>
<text transform="translate(97.2 485.3) scale(0.95 1)" font-size="28.2" text-anchor="end">-0.1</text>
<text x="299.3" y="369.6" font-size="27.3" text-anchor="middle">IMF3</text>
<text transform="translate(25.4 428.9) rotate(-90)" font-size="27.3" text-anchor="middle">Amplitude</text>
<path d="M744.5 381.7V476M873 381.7V476M616.1 405H1001.5" stroke="#dedede" stroke-width="1.2" fill="none"/>
<path d="M616.1 476v-4.2M616.1 381.7v4.2M744.5 476v-4.2M744.5 381.7v4.2M873 476v-4.2M873 381.7v4.2M1001.5 476v-4.2M1001.5 381.7v4.2M616.1 405h4.2M1001.5 405h-4.2M616.1 476h4.2M1001.5 476h-4.2" stroke="#262626" stroke-width="1.3" fill="none"/>
<rect x="616.1" y="381.7" width="385.4" height="94.3" stroke="#262626" stroke-width="1.3" fill="none"/>
<polyline points="616.1,467.2 617.7,472.6 619.2,465.4 620.8,472.2 622.4,463.5 623.9,474.8 625.5,472.1 627.1,472 628.6,474.3 630.2,465.1 631.8,475.3 633.3,475.1 634.9,470.4 636.5,464.3 638.1,469.7 639.6,457.8 641.2,466.3 642.8,468.4 644.3,465.2 645.9,468.3 647.5,473 649,470.5 650.6,465.8 652.2,459 653.7,464.6 655.3,465.9 656.9,473.3 658.4,469.7 660,466.1 661.6,456.9 663.1,457.1 664.7,463.4 666.3,460.4 667.8,456.4 669.4,431.8 671,398.6 672.5,444.8 674.1,457.9 675.7,460.6 677.3,465.5 678.8,461.5 680.4,471.4 682,466.9 683.5,465.6 685.1,465.9 686.7,425.3 688.2,457.8 689.8,457.4 691.4,465.8 692.9,463.8 694.5,464.6 696.1,474.9 697.6,467.7 699.2,474.2 700.8,466.4 702.3,463.4 703.9,466.8 705.5,475.1 707,461.1 708.6,464.3 710.2,462.5 711.7,470.1 713.3,468 714.9,456.5 716.5,464.3 718,450.4 719.6,461.8 721.2,454.4 722.7,443.6 724.3,399 725.9,439.1 727.4,446.5 729,457 730.6,464.4 732.1,465.4 733.7,468.1 735.3,469.5 736.8,467.3 738.4,458.9 740,468 741.5,468.8 743.1,465.3 744.7,459.7 746.2,464.9 747.8,472.5 749.4,467.9 750.9,468.2 752.5,474.6 754.1,471.9 755.7,466.6 757.2,468.6 758.8,459.4 760.4,465.2 761.9,469.7 763.5,468.8 765.1,472.5 766.6,470.9 768.2,464.1 769.8,468.5 771.3,473.6 772.9,474.4 774.5,465 776,469.6 777.6,454.4 779.2,396 780.7,451.4 782.3,465.5 783.9,461.3 785.4,447.7 787,469.9 788.6,473.8 790.1,466.9 791.7,459.2 793.3,463.9 794.9,459 796.4,461.3 798,472.3 799.6,468 801.1,468 802.7,466.8 804.3,460.7 805.8,459.4 807.4,462.3 809,457.9 810.5,450.9 812.1,462 813.7,472.4 815.2,470.5 816.8,473 818.4,462.4 819.9,468.3 821.5,464.6 823.1,473 824.6,466.2 826.2,462.6 827.8,465.2 829.3,463.9 830.9,460.4 832.5,446.8 834.1,429.3 835.6,455.9 837.2,458.5 838.8,464.7 840.3,465.8 841.9,465.9 843.5,473.7 845,475 846.6,464.8 848.2,452.1 849.7,467 851.3,463.9 852.9,463.4 854.4,467 856,467.5 857.6,469.5 859.1,462.6 860.7,468.5 862.3,467.4 863.8,461 865.4,458.7 867,465.1 868.5,469.6 870.1,468.4 871.7,462.3 873.3,472.5 874.8,473.5 876.4,472.1 878,462.7 879.5,465.1 881.1,471.5 882.7,470.3 884.2,464.4 885.8,453.4 887.4,427.4 888.9,461.4 890.5,466.7 892.1,469.8 893.6,468.1 895.2,469.8 896.8,471.3 898.3,465.9 899.9,466.6 901.5,474.6 903,468.2 904.6,470.8 906.2,472.9 907.7,464.9 909.3,466.1 910.9,465.6 912.5,469.4 914,459.5 915.6,465 917.2,469.7 918.7,459.8 920.3,470.3 921.9,461.6 923.4,469.2 925,471.9 926.6,472.8 928.1,474.2 929.7,473.2 931.3,467.1 932.8,469.5 934.4,475.6 936,469 937.5,474.7 939.1,465.7 940.7,463.2 942.2,441.8 943.8,460 945.4,474.4 946.9,456.8 948.5,451.4 950.1,460.9 951.7,465.4 953.2,470.8 954.8,463.6 956.4,468.9 957.9,470.4 959.5,471.7 961.1,461.6 962.6,464.3 964.2,475 965.8,470.6 967.3,474.3 968.9,465.3 970.5,472.4 972,469 973.6,465.9 975.2,469.8 976.7,474.8 978.3,472.1 979.9,474.4 981.4,461.8 983,464.1 984.6,474.5 986.1,473.5 987.7,457.6 989.3,463.5 990.9,467.2 992.4,459.9 994,453.6 995.6,452.7 997.1,462.1 998.7,458.8 1000.3,466" fill="none" stroke="#1414dc" stroke-width="1.15" stroke-linejoin="round"/>
<circle cx="671" cy="398.6" r="2.9" fill="#e8121c"/>
<circle cx="724.3" cy="399" r="2.9" fill="#e8121c"/>
<circle cx="779.2" cy="396" r="2.9" fill="#e8121c"/>
<circle cx="834.1" cy="429.3" r="2.9" fill="#e8121c"/>
<circle cx="887.4" cy="427.4" r="2.9" fill="#e8121c"/>
<circle cx="942.2" cy="441.8" r="2.9" fill="#e8121c"/>
<text transform="translate(615.8 511.4) scale(0.95 1)" font-size="28.2" text-anchor="middle">0</text>
<text transform="translate(744.2 511.4) scale(0.95 1)" font-size="28.2" text-anchor="middle">200</text>
<text transform="translate(872.7 511.4) scale(0.95 1)" font-size="28.2" text-anchor="middle">400</text>
<text transform="translate(1001.2 511.4) scale(0.95 1)" font-size="28.2" text-anchor="middle">600</text>
<text transform="translate(605.4 414.3) scale(0.95 1)" font-size="28.2" text-anchor="end">5</text>
<text transform="translate(605.4 485.3) scale(0.95 1)" font-size="28.2" text-anchor="end">0</text>
<text transform="translate(546.7 428.9) rotate(-90)" font-size="27.3" text-anchor="middle">Amplitude</text>
<text x="626.7" y="378.9" font-size="33.5" text-anchor="middle">×</text>
<text transform="translate(640 375.2) scale(0.95 1)" font-size="28.2" text-anchor="start">10</text>
<text x="666.5" y="361.6" font-size="21.6" text-anchor="start">-3</text>
<path d="M108.2 649.7v-4.2M108.2 555.4v4.2M202.2 649.7v-4.2M202.2 555.4v4.2M296.1 649.7v-4.2M296.1 555.4v4.2M390.1 649.7v-4.2M390.1 555.4v4.2M484 649.7v-4.2M484 555.4v4.2M108.2 555.4h4.2M493.6 555.4h-4.2M108.2 602.5h4.2M493.6 602.5h-4.2M108.2 649.7h4.2M493.6 649.7h-4.2" stroke="#262626" stroke-width="1.3" fill="none"/>
<rect x="108.2" y="555.4" width="385.4" height="94.3" stroke="#262626" stroke-width="1.3" fill="none"/>
<polyline points="108.5,602.5 108.5,599.4 109,602.7 109,605.9 109.5,605.2 109.5,600.3 110,598.8 110,604 110.5,606.8 110.5,600.8 111,597.8 111,606.8 111.5,606.6 111.5,597.8 112,601.5 112,607.3 112.5,602 112.5,598.7 113,600.7 113,604.5 113.5,605.6 113.5,601.5 114,597.9 114,602.3 114.5,606.1 114.5,599.3 115,601.2 115,608.2 115.5,603 115.5,595 116,597.4 116,614.1 116.5,623.3 116.5,590.4 117,581.8 117,601.7 117.5,613.4 117.5,594.7 118,592.9 118,612.9 118.5,609.9 118.5,594.7 119,597.3 119,609.5 119.5,610.1 119.5,594.1 120,596.3 120,611.2 120.5,603.2 120.5,598 121,603.6 121,606.7 121.5,602.3 121.5,599.3 122,599.2 122,604.7 122.5,608.4 122.5,600.2 123,598.4 123,604.6 123.5,606.5 123.5,605.6 124,596.1 124,606.3 124.5,610.7 124.5,604.1 125,596.2 125,602.8 125.5,611.9 125.5,593.2 126,592.2 126,614.2 126.5,612 126.5,594.4 127,589.3 127,606.4 127.5,625.2 127.5,599.5 128,579.9 128,597.5 128.4,612.9 128.4,595.9 128.9,595.6 128.9,610.9 129.4,607.9 129.4,593.3 129.9,600.5 129.9,609.5 130.4,606.2 130.4,599.3 130.9,599 130.9,603.2 131.4,604.9 131.4,602.1 131.9,599.6 131.9,605.3 132.4,607.4 132.4,596.4 132.9,600.9 132.9,611 133.4,607.7 133.4,592.9 133.9,597.9 133.9,611.7 134.4,609.3 134.4,593.3 134.9,599.9 134.9,608.7 135.4,603.7 135.4,599.6 135.9,601.1 135.9,605.1 136.4,605.9 136.4,602.2 136.9,598 136.9,600.1 137.4,609.7 137.4,601.5 137.9,579 137.9,607.6 138.4,623.4 138.4,593.2 138.9,591.1 138.9,626.1 139.4,612.3 139.4,589 139.9,595.6 139.9,610.5 140.4,599.2 140.4,596.4 140.9,601.3 140.9,610.5 141.4,603 141.4,594.4 141.9,593.1 141.9,610.3 142.4,614.4 142.4,599.3 142.9,592.7 142.9,603 143.4,611.7 143.4,599.8 143.9,595.1 143.9,609.6 144.4,608.8 144.4,596.7 144.9,594.9 144.9,607.4 145.4,609 145.4,599 145.9,599.8 145.9,602.7 146.4,605.9 146.4,602.6 146.9,598.3 146.9,606.4 147.4,605.6 147.4,601.9 147.9,600.3 147.9,606.2 148.4,604.3 148.4,597 148.9,603.9 148.9,609.3 149.4,603.4 149.4,588.4 149.9,599.8 149.9,616.7 150.4,607.2 150.4,590.3 150.9,596.6 150.9,614.1 151.4,604.6 151.4,593.4 151.9,604.6 151.9,608.3 152.4,601.3 152.4,597.8 152.9,603.8 152.9,607.3 153.4,603.2 153.4,598.9 153.9,603.6 153.9,605.1 154.4,603.2 154.4,600 154.9,601.6 154.9,603.1 155.4,606.6 155.4,604.2 155.9,597.8 155.9,602.2 156.4,606.8 156.4,600.4 156.9,599.8 156.9,605 157.4,605.3 157.4,599.2 157.9,605.4 157.9,608 158.4,604 158.4,595.1 158.9,597.8 158.9,612.3 159.4,609.6 159.4,591.2 159.9,591.5 159.9,619.9 160.4,611.1 160.4,578.6 160.9,587 160.9,644 161.4,610.2 161.4,561.1 161.9,599.6 161.9,618.3 162.4,604.7 162.4,592 162.9,605 162.9,608.9 163.4,602.1 163.4,597.5 163.9,601.6 163.9,607.2 164.4,602 164.4,599.2 164.9,601.5 164.9,605.3 165.4,604.5 165.4,601.6 165.9,600.2 165.9,604.9 166.4,607.3 166.4,599.6 166.9,595.9 166.9,607.5 167.4,609.4 167.4,598.3 167.9,595.9 167.9,609.5 168.4,607.6 168.4,596.1 168.9,599.4 168.9,609 169.4,608 169.4,597.8 169.9,594.8 169.9,608.6 170.4,609.7 170.4,596 170.9,596.7 170.9,604.1 171.4,611.6 171.4,600.3 171.9,588.4 171.9,611 172.4,616.7 172.4,605.6 172.9,598.7 172.9,601.1 173.4,609.5 173.4,596.2 173.9,596.4 173.9,609.1 174.4,606.4 174.4,596.5 174.9,596.6 174.9,607.7 175.4,610.9 175.4,596.6 175.9,593.8 175.9,608 176.4,612.9 176.4,591.8 176.9,592.1 176.9,612.7 177.4,611.9 177.4,596.6 177.9,595.9 177.9,605.1 178.4,605.8 178.4,603.7 178.9,601.8 178.9,603 179.4,602.8 179.4,600.4 179.9,600.8 179.9,607.3 180.4,604.1 180.4,598.2 180.9,601.8 180.9,607.5 181.4,606.2 181.4,597.2 181.9,595.9 181.9,608 182.4,615.5 182.4,596.6 182.9,579.9 182.9,606.7 183.4,625.2 183.4,602.9 183.9,590.4 183.9,608 184.4,613.9 184.4,590.8 184.9,590.5 184.9,612.5 185.4,614.6 185.4,599 185.9,594.1 185.9,606.7 186.4,608.1 186.4,599.4 186.9,602.6 186.9,605.9 187.4,604.2 187.4,599.7 187.9,601.2 187.9,603.8 188.4,604.8 188.4,598.6 188.9,599.9 188.9,605.7 189.4,603.5 189.4,601.2 189.9,600.3 189.9,603.7 190.4,605.2 190.4,600.4 190.9,599.8 190.9,603.5 191.4,607.1 191.4,602.2 191.9,596.2 191.9,607.3 192.4,609.4 192.4,594.7 192.9,597.2 192.9,611.6 193.4,614.4 193.4,589.3 193.9,601.4 193.9,628.5 194.4,612.7 194.4,576.6 194.9,590.9 194.9,619.2 195.4,610.2 195.4,592.8 195.9,597.4 195.9,606.1 196.4,605.7 196.4,600.3 196.9,598.9 196.9,605.5 197.4,604.4 197.4,603.2 197.9,598.5 197.9,601.5 198.4,604 198.4,601.8 198.9,602.4 198.9,604.9 199.4,603.8 199.4,599 199.9,599.8 199.9,605.9 200.4,606.6 200.4,600.5 200.9,597.7 200.9,603.1 201.4,608.9 201.4,595.7 201.9,596.7 201.9,609.7 202.4,601.5 202.4,593 202.9,602.1 202.9,609.7 203.4,600.9 203.4,598.6 203.9,598.7 203.9,605.5 204.4,610.4 204.4,606.7 204.9,583.7 204.9,608 205.4,621.4 205.4,591.1 205.9,590.5 205.9,612.7 206.4,607.5 206.4,594.2 206.9,601 206.9,606.8 207.4,606.6 207.4,600.5 207.9,596.5 207.9,601.1 208.4,606.5 208.4,603 208.9,599.7 208.9,606.4 209.4,605.8 209.4,595.2 209.9,604.6 209.9,612.1 210.4,599.7 210.4,593.5 210.9,602.3 210.9,611.3 211.4,599.1 211.4,595.5 211.9,598.5 211.9,608.5 212.4,607.8 212.4,596.3 212.9,596.8 212.9,610.4 213.4,610.8 213.4,595.9 213.9,594.4 213.9,604.9 214.4,607.4 214.4,605.7 214.9,595.6 214.9,603.6 215.4,613.8 215.4,597.4 215.9,592.8 215.9,614.1 216.4,605.5 216.4,574.3 216.9,594.2 216.9,630.8 217.4,608.4 217.4,591.1 217.9,594.6 217.9,605.7 218.4,611.4 218.4,592.5 218.9,590.2 218.9,612.1 219.4,613 219.4,597.3 219.9,595 219.9,602.4 220.4,607 220.4,599.6 220.9,600.6 220.9,605.8 221.4,604.1 221.4,600 221.9,600.5 221.9,603.3 222.4,604.6 222.4,603.3 222.9,600.7 222.9,603.6 223.4,605.5 223.4,600.7 223.9,600.5 223.9,603.7 224.4,604.5 224.4,599.6 224.9,599 224.9,608.4 225.4,602.2 225.4,597.9 225.9,604.3 225.9,606.1 226.4,606.4 226.4,595.3 226.9,593.4 226.9,611.7 227.4,597.3 227.4,586.3 227.9,582.3 227.9,622.8 228.4,614 228.4,590.1 228.9,592.1 228.9,610.9 229.4,610.2 229.4,598.1 229.9,595.9 229.9,603 230.4,606.9 230.4,604.2 230.9,600.3 230.9,602.1 231.4,603.6 231.4,600.6 231.9,603.5 231.9,604.8 232.4,601.5 232.4,600.4 232.9,603.3 232.9,606.5 233.4,603 233.4,598.7 233.9,601.1 233.9,605.7 234.4,605.4 234.4,600.1 234.9,601.9 234.9,607.9 235.4,601.8 235.4,595.3 235.9,605.7 235.9,610.8 236.4,604.2 236.4,593.8 236.9,594.7 236.9,611.5 237.4,610.1 237.4,597.4 237.9,595.3 237.9,604.3 238.4,615.3 238.4,603.4 238.9,589.8 238.9,601 239.4,608.6 239.4,602.3 239.9,597.7 239.9,605.5 240.4,608.1 240.4,597.6 240.9,598.3 240.9,607.1 241.4,605.7 241.4,598.4 241.9,600.2 241.9,604.4 242.4,605.8 242.4,601.8 242.9,599.9 242.9,601.4 243.4,607.8 243.4,600.7 243.9,601.7 243.9,607.9 244.4,598.2 244.4,593.9 244.9,600.8 244.9,612.5 245.4,602.8 245.4,594 245.9,598 245.9,610.4 246.4,608.9 246.4,596.7 246.9,602.4 246.9,608.6 247.4,600.9 247.4,598 247.9,603.3 247.9,607.7 248.4,602.1 248.4,599.9 248.9,597.5 248.9,607.2 249.4,610.7 249.4,588.4 249.9,598.6 249.9,616.7 250.4,606.3 250.4,594.6 250.9,596.8 250.9,608.9 251.4,607.4 251.4,598.2 251.9,597.8 251.9,605.1 252.4,607.7 252.4,597.3 252.9,594.7 252.9,613.9 253.4,606.2 253.4,589.6 253.9,600.9 253.9,612.6 254.4,603.2 254.4,595.5 254.9,598 254.9,601.4 255.4,604.2 255.4,599.6 255.9,598 255.9,607.6 256.4,607.7 256.4,595.2 256.9,600.6 256.9,610 257.4,605 257.4,595.7 257.9,600.2 257.9,605.1 258.4,606.1 258.4,601.9 258.9,598.9 258.9,604.9 259.4,607.5 259.4,596.1 259.9,594.1 259.9,612 260.4,614.3 260.4,584.6 260.9,591.2 260.9,620.5 261.4,604.2 261.4,590.1 261.9,594.3 261.9,612.4 262.4,607.7 262.4,592 262.9,605 262.9,609.7 263.4,604.8 263.4,598.8 263.9,600.6 263.9,605.3 264.4,604.7 264.4,602.7 264.9,599.2 264.9,604 265.4,606 265.4,602.3 265.9,600.3 265.9,603.3 266.4,604.1 266.4,600.3 266.9,601.2 266.9,604.4 267.4,604 267.4,602.1 267.9,598.4 267.9,602.5 268.4,604.3 268.4,602.2 268.9,599.7 268.9,607.6 269.4,605 269.4,594.1 269.9,593.7 269.9,609.8 270.4,612.1 270.4,594.1 270.9,591.4 270.9,614.3 271.4,612.2 271.4,588.7 271.9,581.8 271.9,623.3 272.4,615.7 272.4,591.3 272.9,594.6 272.9,604.1 273.4,609.5 273.4,601 273.9,597.7 273.9,602.8 274.4,606 274.4,600.7 274.9,600.9 274.9,602.2 275.4,605.8 275.4,601.9 275.9,597.6 275.9,602.1 276.4,604.8 276.4,603.4 276.9,600.5 276.9,605.1 277.4,606.2 277.4,598.4 277.9,602.2 277.9,607.1 278.4,604.5 278.4,597.8 278.9,592.8 278.9,609.4 279.4,614.9 279.4,599.5 279.9,585.6 279.9,595.2 280.4,619.5 280.4,603 280.9,593 280.9,600.2 281.4,610.1 281.4,603.6 281.9,594.4 281.9,601 282.4,612.1 282.4,587.3 282.9,602.9 282.9,630.8 283.4,614.8 283.4,574.3 283.9,591.7 283.9,616.5 284.4,609.3 284.4,599.9 284.9,597.2 284.9,607.8 285.4,606.4 285.4,598.5 285.9,599.5 285.9,605.8 286.4,606.9 286.4,596.4 286.9,600.4 286.9,610.6 287.4,602.5 287.4,592.7 287.9,603.7 287.9,613 288.4,601.6 288.4,593.2 288.9,601.3 288.9,608 289.4,608 289.4,600.4 289.9,599 289.9,601.1 290.4,605.6 290.4,601.4 290.9,599.8 290.9,606.3 291.4,605 291.4,598.4 291.9,600.7 291.9,606.5 292.4,602.5 292.4,599.3 292.9,601.7 292.9,608.3 293.4,600.7 293.4,591.7 293.9,589.3 293.9,621.4 294.4,629 294.4,576.1 294.9,589.4 294.9,598.5 295.4,611.9 295.4,605 295.9,594.2 295.9,601.9 296.4,610.8 296.4,600.5 296.9,594.1 296.9,606.4 297.4,609.5 297.4,595.7 297.9,597.4 297.9,609.1 298.4,607.5 298.4,601.2 298.9,595.9 298.9,605.6 299.4,608 299.4,599.1 299.9,599.4 299.9,602.6 300.4,606.6 300.4,600.5 300.9,599.4 300.9,605 301.4,604.8 301.4,602.2 301.9,601.4 301.9,604.3 302.4,605.3 302.4,597.9 302.9,597.8 302.9,608.8 303.4,608.5 303.4,594.2 303.9,594.5 303.9,613 304.4,604.6 304.4,592 304.9,592.9 304.9,614.3 305.4,615.3 305.4,587.4 305.9,602.2 305.9,612.8 306.4,604.9 306.4,596.2 306.9,598.2 306.9,607.3 307.4,602.5 307.4,599.5 307.9,601.2 307.9,604.7 308.4,606 308.4,600.6 308.9,598.1 308.9,604.1 309.4,606.5 309.4,602.4 309.9,599.7 309.9,603 310.4,603.9 310.4,599.7 310.9,603.4 310.9,606.3 311.4,601.8 311.4,599 311.9,600.7 311.9,607.6 312.4,606.8 312.4,596.3 312.9,598.9 312.9,608.8 313.4,604.4 313.4,595.5 313.9,604 313.9,609.6 314.4,601.2 314.4,594.6 314.9,597.1 314.9,613.2 315.4,607.1 315.4,589.8 315.9,598.1 315.9,624.7 316.4,615.5 316.4,580.4 316.9,591.9 316.9,617.2 317.4,612 317.4,595.2 317.9,594.7 317.9,610.6 318.4,603.9 318.4,595.8 318.9,603.1 318.9,607.5 319.4,604.9 319.4,601.1 319.9,596.5 319.9,604 320.4,608.6 320.4,599.9 320.9,596.9 320.9,607.8 321.4,606.3 321.4,595.4 321.9,597.8 321.9,611.3 322.4,606.3 322.4,594.2 322.9,598.6 322.9,610.3 323.4,605.9 323.4,596.3 323.9,599.8 323.9,608.5 324.4,605.1 324.4,598.4 324.9,597.6 324.9,602.8 325.4,608.4 325.4,604.1 325.9,597 325.9,603.7 326.4,606.1 326.4,599.7 326.9,603.3 326.9,608.9 327.4,599.9 327.4,589.3 327.9,594.6 327.9,615.8 328.4,605.5 328.4,597.4 328.9,598.4 328.9,606.9 329.4,599 329.4,597 329.9,600.8 329.9,611 330.4,612.5 330.4,592.9 330.9,592.1 330.9,612.6 331.4,612.7 331.4,601 331.9,593.5 331.9,601.8 332.4,609.9 332.4,605.6 332.9,598.4 332.9,601.8 333.4,603.3 333.4,601.6 333.9,602.9 333.9,605.8 334.4,601.8 334.4,598.8 334.9,602.5 334.9,603.7 335.4,604.8 335.4,600.8 335.9,600 335.9,603.3 336.4,605.6 336.4,602.5 336.9,598.5 336.9,603 337.4,608.9 337.4,602.2 337.9,591.4 337.9,607.8 338.4,630.4 338.4,614.5 338.9,574.7 338.9,601.3 339.4,616.6 339.4,597.6 339.9,592.8 339.9,608.8 340.4,610 340.4,597.3 340.9,596.2 340.9,605.8 341.4,606.9 341.4,601.7 341.9,601.2 341.9,602.6 342.4,602.4 342.4,600.8 342.9,602.9 342.9,605.5 343.4,603.1 343.4,600.6 343.9,600.6 343.9,603.7 344.4,605.2 344.4,601 344.9,601.2 344.9,603.5 345.4,603.1 345.4,598.3 345.9,600.5 345.9,607.8 346.4,602.6 346.4,597.7 346.9,600.8 346.9,608.5 347.4,609.9 347.4,596 347.9,596.1 347.9,609.8 348.4,599.6 348.4,595.1 348.9,602.9 348.9,610.2 349.4,602.6 349.4,588.4 349.9,598.9 349.9,616.7 350.4,603.8 350.4,594.2 350.9,599.7 350.9,607.8 351.4,606.4 351.4,599.4 351.9,597.6 351.9,604.7 352.4,607.1 352.4,603.2 352.9,594.5 352.9,603.6 353.4,608.4 353.4,598.9 353.9,599.7 353.9,606.3 354.4,602.8 354.4,595.3 354.9,600.3 354.9,609.7 355.4,608 355.4,597.5 355.9,596.4 355.9,604.7 356.4,609.2 356.4,600.9 356.9,596.7 356.9,605.8 357.4,608 357.4,597.6 357.9,598.2 357.9,609 358.4,607.8 358.4,598.1 358.9,601.7 358.9,606.1 359.4,604.9 359.4,598.3 359.9,602.1 359.9,610.4 360.4,599.3 360.4,586.5 360.9,605.9 360.9,618.6 361.4,604.7 361.4,596.8 361.9,595.3 361.9,607.2 362.4,610.4 362.4,598.4 362.9,596.1 362.9,607.4 363.4,607 363.4,596.2 363.9,597.8 363.9,610.1 364.4,610.4 364.4,591.5 364.9,594.9 364.9,617.6 365.4,611.9 365.4,587.5 365.9,592.4 365.9,612.7 366.4,610 366.4,595.9 366.9,595.5 366.9,607.5 367.4,608.5 367.4,598.3 367.9,598 367.9,607 368.4,604.6 368.4,598.8 368.9,601.8 368.9,604.4 369.4,604.6 369.4,600.9 369.9,598.1 369.9,605.3 370.4,610.6 370.4,597.6 370.9,591.7 370.9,607.9 371.4,644 371.4,607.9 371.9,561.1 371.9,593.2 372.4,623.9 372.4,571.9 372.9,587.1 372.9,618.3 373.4,612.7 373.4,590.5 373.9,594.8 373.9,612.2 374.4,597.6 374.4,594.6 374.9,599.3 374.9,610.5 375.4,607.8 375.4,592.2 375.9,603.3 375.9,611.9 376.4,603 376.4,596.6 376.9,602.2 376.9,605.3 377.4,603.5 377.4,598.6 377.9,600.9 377.9,607.6 378.4,603.4 378.4,598.9 378.9,601.6 378.9,604.7 379.4,602.9 379.4,600.8 379.9,598.7 379.9,604.6 380.4,607.8 380.4,600.7 380.9,595.6 380.9,603.8 381.4,608.3 381.4,597.1 381.9,590.5 381.9,613.3 382.4,620.1 382.4,590.3 382.9,576.1 382.9,612 383.4,629 383.4,596.8 383.9,589.4 383.9,602.6 384.4,610 384.4,605.1 384.9,596.9 384.9,603.1 385.4,607.1 385.4,602.5 385.9,600.4 385.9,600.9 386.4,604.6 386.4,601.3 386.9,600.3 386.9,606.7 387.4,606.4 387.4,596.5 387.9,599 387.9,609.5 388.4,603.3 388.4,598.8 388.9,603.6 388.9,605.7 389.4,606.4 389.4,598.4 389.9,596.5 389.9,606.7 390.4,608.9 390.4,597.3 390.9,595.1 390.9,609 391.4,611.2 391.4,601 391.9,594.8 391.9,603.8 392.4,609.6 392.4,597.4 392.9,596.6 392.9,609.4 393.4,603.3 393.4,593.1 393.9,588.9 393.9,627.5 394.4,603.2 394.4,577.6 394.9,608 394.9,613.5 395.4,605.3 395.4,598.2 395.9,596.2 395.9,600.8 396.4,609.6 396.4,604.1 396.9,597.6 396.9,600.8 397.4,604.6 397.4,600.2 397.9,598.7 397.9,609.3 398.4,608.2 398.4,596.1 398.9,594.8 398.9,610.4 399.4,610.8 399.4,596.8 399.9,594.7 399.9,607.5 400.4,609.9 400.4,598.3 400.9,597.5 400.9,604.3 401.4,606.1 401.4,602.9 401.9,600.9 401.9,604.3 402.4,603.2 402.4,600.9 402.9,602.1 402.9,605 403.4,604.1 403.4,599.7 403.9,600.1 403.9,605.8 404.4,604.1 404.4,596.3 404.9,592.4 404.9,613.3 405.4,612.2 405.4,584.6 405.9,594.1 405.9,620.5 406.4,609 406.4,592.7 406.9,594 406.9,607.4 407.4,614.9 407.4,593.3 407.9,587.8 407.9,616.8 408.4,612.3 408.4,589.8 408.9,596.3 408.9,611.9 409.4,610.1 409.4,592.4 409.9,587.5 409.9,615.3 410.4,617.6 410.4,591.3 410.9,591.8 410.9,611 411.4,608.4 411.4,599 411.9,598.3 411.9,605.2 412.4,608.5 412.4,598.5 412.9,595.7 412.9,607.1 413.4,607.9 413.4,599.7 413.9,600.4 413.9,603.3 414.4,605.8 414.4,597.9 414.9,596.9 414.9,612 415.4,612.1 415.4,587.7 415.9,589.1 415.9,627.1 416.4,620.8 416.4,561.1 416.9,583.8 416.9,644 417.4,616.1 417.4,583.1 417.9,596.2 417.9,612 418.4,605.9 418.4,596 418.9,600.4 418.9,605.5 419.4,607.3 419.4,598.2 419.9,597.4 419.9,606.3 420.4,603.9 420.4,596.8 420.9,602.1 420.9,606.9 421.4,603.2 421.4,600.9 421.9,599.7 421.9,606.8 422.4,605 422.4,597.5 422.9,601 422.9,607.9 423.4,605.9 423.4,595.9 423.9,601.5 423.9,609.1 424.4,609.9 424.4,594 424.9,592.1 424.9,612.3 425.4,612.5 425.4,593.5 425.9,594.3 425.9,602 426.4,609.4 426.4,597.2 426.9,593.7 426.9,609.9 427.4,615.3 427.4,589.8 427.9,594.4 427.9,607.7 428.4,608.2 428.4,597.7 428.9,601.5 428.9,606.6 429.4,603 429.4,597.6 429.9,602.6 429.9,606.7 430.4,603 430.4,599.3 430.9,598 430.9,607.8 431.4,610.2 431.4,597.6 431.9,598.5 431.9,604.5 432.4,606.9 432.4,602.7 432.9,595.3 432.9,601.1 433.4,612.3 433.4,603.2 433.9,597.9 433.9,611 434.4,609.2 434.4,592.8 434.9,599.4 434.9,610.8 435.4,599.5 435.4,597.9 435.9,600.8 435.9,608.5 436.4,604 436.4,595.1 436.9,600.4 436.9,608 437.4,608.3 437.4,593 437.9,592.4 437.9,616.5 438.4,627.5 438.4,577.6 438.9,586.7 438.9,619.3 439.4,607.6 439.4,590.6 439.9,603.5 439.9,609.8 440.4,603 440.4,596.8 440.9,601.1 440.9,608.6 441.4,603.1 441.4,595.8 441.9,601.5 441.9,611.4 442.4,604 442.4,594.2 442.9,602.1 442.9,610.1 443.4,607.3 443.4,596 443.9,598.5 443.9,605.9 444.4,606.3 444.4,600.1 444.9,600.6 444.9,606.3 445.4,603.1 445.4,595.1 445.9,601.3 445.9,610.9 446.4,602.7 446.4,595.2 446.9,604 446.9,607.9 447.4,601.5 447.4,596.5 447.9,600.4 447.9,606.4 448.4,608.7 448.4,597.5 448.9,593 448.9,606.1 449.4,616.9 449.4,588.7 449.9,579.9 449.9,616.3 450.4,625.2 450.4,597.3 450.9,591.6 450.9,594.3 451.4,610.7 451.4,595.5 451.9,597.7 451.9,610 452.4,602 452.4,596.2 452.9,602.2 452.9,608.6 453.4,602.3 453.4,596 453.9,601 453.9,608.1 454.4,604.1 454.4,597.8 454.9,602.3 454.9,605.6 455.4,603.4 455.4,597.9 455.9,600.1 455.9,608.1 456.4,606.7 456.4,596.9 456.9,600.7 456.9,605.9 457.4,606 457.4,600.9 457.9,597.5 457.9,606.2 458.4,607.8 458.4,600.9 458.9,596.3 458.9,599.6 459.4,611.1 459.4,595.4 459.9,594.1 459.9,608.9 460.4,614.6 460.4,592.7 460.9,582.7 460.9,622.4 461.4,613.4 461.4,593 461.9,597.3 461.9,609.9 462.4,608.5 462.4,596 462.9,598.4 462.9,607.7 463.4,603.6 463.4,597.9 463.9,601 463.9,606 464.4,605.1 464.4,600.7 464.9,596.9 464.9,602.3 465.4,606.8 465.4,602.8 465.9,598.6 465.9,601.2 466.4,605.8 466.4,601.8 466.9,598.7 466.9,608.6 467.4,610.9 467.4,593 467.9,592.5 467.9,611.9 468.4,611.8 468.4,594.4 468.9,595.4 468.9,607.9 469.4,608.5 469.4,599.5 469.9,598.2 469.9,606.3 470.4,607.2 470.4,595.7 470.9,601.2 470.9,613.6 471.4,637.4 471.4,585.1 471.9,567.7 471.9,621.4 472.4,623.4 472.4,599.2 472.9,588.2 472.9,607.5 473.4,611.4 473.4,605.9 473.9,596.5 473.9,605.3 474.4,607.2 474.4,598.6 474.9,597.9 474.9,607.7 475.4,604.7 475.4,596.1 475.9,601.9 475.9,608.9 476.4,609.1 476.4,595.4 476.9,595.3 476.9,602.1 477.4,611.4 477.4,604.9 477.9,589.3 477.9,608.5 478.4,615.8 478.4,599.3 478.9,595 478.9,602.9 479.4,607.3 479.4,601.1 479.9,599.3 479.9,604 480.4,608.5 480.4,597.1 480.9,593 480.9,611.8 481.4,607.1 481.4,596.4 481.9,598.3 481.9,608.9 482.4,610.9 482.4,590.8 482.9,582.7 482.9,622.4 483.4,614.7 483.4,593.7 483.9,593.8 483.9,602.7 484.4,607.4 484.4,597.9 484.9,596.2 484.9,609.6 485.4,609.3 485.4,595.1 485.9,597.5 485.9,608.7 486.4,608.1 486.4,600.8 486.9,597 486.9,601 487.4,607.7 487.4,604.1 487.9,599.2 487.9,602.2 488.4,604.8 488.4,601.4 488.9,601.2 488.9,603.8 489.4,602.4 489.4,601.7 489.9,602.4 489.9,603.4 490.4,603 490.4,601.8 490.9,599.8 490.9,602.1 491.4,607.3 491.4,603.7 491.9,599 491.9,601.9 492.4,606.1 492.4,603.7 492.9,606 492.9,606.6" fill="none" stroke="#0874bf" stroke-width="1.45" stroke-linejoin="round"/>
<text transform="translate(107.4 685.1) scale(0.95 1)" font-size="28.2" text-anchor="middle">0</text>
<text transform="translate(201.4 685.1) scale(0.95 1)" font-size="28.2" text-anchor="middle">0.1</text>
<text transform="translate(295.3 685.1) scale(0.95 1)" font-size="28.2" text-anchor="middle">0.2</text>
<text transform="translate(389.3 685.1) scale(0.95 1)" font-size="28.2" text-anchor="middle">0.3</text>
<text transform="translate(483.2 685.1) scale(0.95 1)" font-size="28.2" text-anchor="middle">0.4</text>
<text transform="translate(97.2 564.7) scale(0.95 1)" font-size="28.2" text-anchor="end">0.05</text>
<text transform="translate(97.2 611.8) scale(0.95 1)" font-size="28.2" text-anchor="end">0</text>
<text transform="translate(97.2 659) scale(0.95 1)" font-size="28.2" text-anchor="end">-0.05</text>
<text x="299.3" y="543.3" font-size="27.3" text-anchor="middle">IMF4</text>
<text transform="translate(25.7 602.5) rotate(-90)" font-size="27.3" text-anchor="middle">Amplitude</text>
<path d="M744.5 555.4V649.7M873 555.4V649.7M616.1 595.2H1001.5" stroke="#dedede" stroke-width="1.2" fill="none"/>
<path d="M616.1 649.7v-4.2M616.1 555.4v4.2M744.5 649.7v-4.2M744.5 555.4v4.2M873 649.7v-4.2M873 555.4v4.2M1001.5 649.7v-4.2M1001.5 555.4v4.2M616.1 595.2h4.2M1001.5 595.2h-4.2M616.1 649.7h4.2M1001.5 649.7h-4.2" stroke="#262626" stroke-width="1.3" fill="none"/>
<rect x="616.1" y="555.4" width="385.4" height="94.3" stroke="#262626" stroke-width="1.3" fill="none"/>
<polyline points="616.1,639.9 617.7,636.6 619.2,643.2 620.8,640.4 622.4,639.8 623.9,638 625.5,627.1 627.1,640.2 628.6,642.1 630.2,641.8 631.8,631.1 633.3,629.9 634.9,628.7 636.5,631.2 638.1,635.2 639.6,643.8 641.2,629.5 642.8,636.2 644.3,633.6 645.9,630.4 647.5,619.7 649,640.6 650.6,643.4 652.2,636.7 653.7,631.1 655.3,638.1 656.9,633 658.4,630.5 660,645.6 661.6,630.9 663.1,631.1 664.7,639.6 666.3,636.1 667.8,629.9 669.4,597 671,568.2 672.5,611.1 674.1,624.4 675.7,645.2 677.3,636.5 678.8,639 680.4,641.4 682,636.4 683.5,639.1 685.1,638.2 686.7,591.6 688.2,635.2 689.8,643.8 691.4,646 692.9,624.4 694.5,628 696.1,630.6 697.6,639.4 699.2,641.2 700.8,632.7 702.3,636.5 703.9,642.5 705.5,643.3 707,636.4 708.6,626.1 710.2,635.9 711.7,638.9 713.3,642.4 714.9,629.9 716.5,635.3 718,637.8 719.6,638.1 721.2,634.4 722.7,609.5 724.3,568.2 725.9,608.1 727.4,627.6 729,639.2 730.6,636.5 732.1,645 733.7,630.4 735.3,639.8 736.8,635.2 738.4,635.8 740,628.7 741.5,632.9 743.1,634.9 744.7,648.4 746.2,646.7 747.8,637.4 749.4,640.4 750.9,644.4 752.5,634.3 754.1,639 755.7,640 757.2,645.8 758.8,647 760.4,647.8 761.9,633.8 763.5,637.5 765.1,634.9 766.6,638.3 768.2,645.1 769.8,642.2 771.3,646.3 772.9,636.3 774.5,637.7 776,635 777.6,624.5 779.2,571.2 780.7,624.4 782.3,636.7 783.9,642.9 785.4,641 787,637 788.6,634 790.1,642.4 791.7,648.9 793.3,646.4 794.9,643.5 796.4,644.3 798,635.5 799.6,629.8 801.1,642.6 802.7,631.3 804.3,631.9 805.8,645.3 807.4,642.9 809,636.2 810.5,645.1 812.1,646.1 813.7,630 815.2,635.7 816.8,643.2 818.4,627.2 819.9,631.3 821.5,636.5 823.1,628.8 824.6,628.5 826.2,635.7 827.8,632.1 829.3,636.1 830.9,631.6 832.5,617.6 834.1,610.5 835.6,622.4 837.2,635 838.8,635.9 840.3,647 841.9,636.1 843.5,637.8 845,647.3 846.6,649.2 848.2,649.3 849.7,645 851.3,636.4 852.9,640.5 854.4,644 856,640.7 857.6,631.8 859.1,641 860.7,643.1 862.3,623.7 863.8,632 865.4,631.6 867,633.1 868.5,638 870.1,639.8 871.7,631.4 873.3,637.2 874.8,635.3 876.4,637.9 878,629.5 879.5,644.7 881.1,648.4 882.7,645.3 884.2,639.2 885.8,631.7 887.4,606.6 888.9,637.6 890.5,638.7 892.1,647.6 893.6,647.4 895.2,645.6 896.8,646.4 898.3,646.7 899.9,646.3 901.5,646.3 903,644.2 904.6,642.9 906.2,641.9 907.7,644.3 909.3,646.5 910.9,647.6 912.5,647.8 914,648.3 915.6,643.6 917.2,641.1 918.7,644.6 920.3,645 921.9,649.5 923.4,645.8 925,646.3 926.6,645.2 928.1,644.9 929.7,639 931.3,646.3 932.8,646.1 934.4,640.7 936,643.4 937.5,648 939.1,646 940.7,644.2 942.2,631.8 943.8,646.2 945.4,644 946.9,642.6 948.5,639.9 950.1,641 951.7,645.5 953.2,648.8 954.8,647.9 956.4,646.9 957.9,646 959.5,647 961.1,648.1 962.6,644.2 964.2,644.9 965.8,646.2 967.3,646.6 968.9,647 970.5,647 972,640.3 973.6,645.5 975.2,646.3 976.7,642.3 978.3,645.6 979.9,645 981.4,647.5 983,646.9 984.6,649.2 986.1,644.2 987.7,640.7 989.3,644 990.9,643.8 992.4,641.2 994,637.1 995.6,634.4 997.1,644.8 998.7,645.3 1000.3,642.9" fill="none" stroke="#1414dc" stroke-width="1.15" stroke-linejoin="round"/>
<circle cx="671" cy="568.2" r="2.9" fill="#e8121c"/>
<circle cx="724.3" cy="568.2" r="2.9" fill="#e8121c"/>
<circle cx="779.2" cy="571.2" r="2.9" fill="#e8121c"/>
<circle cx="834.1" cy="610.5" r="2.9" fill="#e8121c"/>
<circle cx="887.4" cy="606.6" r="2.9" fill="#e8121c"/>
<text transform="translate(615.8 685.1) scale(0.95 1)" font-size="28.2" text-anchor="middle">0</text>
<text transform="translate(744.2 685.1) scale(0.95 1)" font-size="28.2" text-anchor="middle">200</text>
<text transform="translate(872.7 685.1) scale(0.95 1)" font-size="28.2" text-anchor="middle">400</text>
<text transform="translate(1001.2 685.1) scale(0.95 1)" font-size="28.2" text-anchor="middle">600</text>
<text transform="translate(605.4 604.5) scale(0.95 1)" font-size="28.2" text-anchor="end">2</text>
<text transform="translate(605.4 659) scale(0.95 1)" font-size="28.2" text-anchor="end">0</text>
<text transform="translate(548.3 602.1) rotate(-90)" font-size="27.3" text-anchor="middle">Amplitude</text>
<text x="626.7" y="552.6" font-size="33.5" text-anchor="middle">×</text>
<text transform="translate(640 548.9) scale(0.95 1)" font-size="28.2" text-anchor="start">10</text>
<text x="666.5" y="535.3" font-size="21.6" text-anchor="start">-3</text>
<path d="M108.2 823.7v-4.2M108.2 729.4v4.2M202.2 823.7v-4.2M202.2 729.4v4.2M296.1 823.7v-4.2M296.1 729.4v4.2M390.1 823.7v-4.2M390.1 729.4v4.2M484 823.7v-4.2M484 729.4v4.2M108.2 737.6h4.2M493.6 737.6h-4.2M108.2 773.8h4.2M493.6 773.8h-4.2M108.2 810.1h4.2M493.6 810.1h-4.2" stroke="#262626" stroke-width="1.3" fill="none"/>
<rect x="108.2" y="729.4" width="385.4" height="94.3" stroke="#262626" stroke-width="1.3" fill="none"/>
<polyline points="108.5,777.9 108.5,775.1 109,767.9 109,773.1 109.5,777.3 109.5,769.9 110,771.6 110,775.7 110.5,778.9 110.5,775.9 111,770.5 111,773.7 111.5,774.7 111.5,772.5 112,771.2 112,773.9 112.5,777.8 112.5,775.7 113,769.3 113,775.4 113.5,776.5 113.5,770.5 114,777.7 114,779.9 114.5,775.3 114.5,767.5 115,769.3 115,775.7 115.5,776.5 115.5,774.9 116,764.1 116,779.2 116.5,786.5 116.5,759.5 117,772.3 117,792.4 117.5,767 117.5,754.3 118,774.3 118,783.6 118.5,779.1 118.5,768.7 119,769.7 119,776.6 119.5,776.3 119.5,771.9 120,771.9 120,773.5 120.5,776 120.5,771.5 121,774.4 121,778.4 121.5,772.4 121.5,767.5 122,770.6 122,779.9 122.5,779 122.5,771.1 123,769.7 123,771.7 123.5,772 123.5,770.6 124,770.7 124,784.9 124.5,791.1 124.5,773.3 125,751.9 125,763.3 125.5,792.8 125.5,771.7 126,761.2 126,775.4 126.5,778 126.5,774.1 127,766 127,771.5 127.5,794.8 127.5,778.7 128,753.9 128,784.4 128.4,782.6 128.4,754.9 128.9,778.4 128.9,785.5 129.4,777.4 129.4,775.3 129.9,772.1 129.9,775.4 130.4,771.3 130.4,767.8 130.9,772.8 130.9,783.9 131.4,782.7 131.4,765.8 131.9,766.4 131.9,773.8 132.4,774.5 132.4,773.8 132.9,774.6 132.9,776.6 133.4,776.2 133.4,770.5 133.9,768.8 133.9,775.5 134.4,781.1 134.4,773.4 134.9,766.1 134.9,769.7 135.4,777 135.4,772.4 135.9,775.3 135.9,776.8 136.4,775.1 136.4,772.1 136.9,772.3 136.9,773.2 137.4,773.2 137.4,771.1 137.9,774.8 137.9,782.7 138.4,775.8 138.4,755.9 138.9,757.6 138.9,782.7 139.4,792 139.4,775.7 139.9,764 139.9,769.6 140.4,776.3 140.4,767 140.9,778.3 140.9,781.5 141.4,775.9 141.4,771.3 141.9,767.6 141.9,771.3 142.4,777.9 142.4,768.6 142.9,774.6 142.9,779.2 143.4,772.5 143.4,771.8 143.9,772.1 143.9,773.4 144.4,774.8 144.4,773.4 144.9,774.3 144.9,774.9 145.4,774.3 145.4,773.1 145.9,771.2 145.9,772.4 146.4,777.2 146.4,771.7 146.9,771.6 146.9,778.9 147.4,771.2 147.4,770.4 147.9,772.3 147.9,776.9 148.4,777.8 148.4,770.8 148.9,769.5 148.9,771.4 149.4,778.2 149.4,773.4 149.9,770.4 149.9,784.7 150.4,758.2 150.4,737.6 150.9,772.9 150.9,805.7 151.4,790 151.4,743.1 151.9,751.6 151.9,785.4 152.4,776.2 152.4,769.2 152.9,771.6 152.9,777.3 153.4,777.6 153.4,768.9 153.9,775.4 153.9,781.8 154.4,771.7 154.4,766.9 154.9,768.7 154.9,777.5 155.4,778.1 155.4,774.8 155.9,772.8 155.9,774.2 156.4,774.2 156.4,771.9 156.9,772.4 156.9,776.2 157.4,776 157.4,770.2 157.9,770.4 157.9,778.2 158.4,777.9 158.4,770.5 158.9,770.3 158.9,775.6 159.4,776.7 159.4,773.9 159.9,762.4 159.9,773.2 160.4,777.6 160.4,759.9 160.9,779.3 160.9,792.8 161.4,771.4 161.4,757.9 161.9,764.4 161.9,777.3 162.4,777.3 162.4,774.9 162.9,771.2 162.9,774.2 163.4,774.7 163.4,771.6 163.9,772.4 163.9,777.2 164.4,772 164.4,767.6 164.9,776.3 164.9,783.2 165.4,775.8 165.4,767.8 165.9,763.9 165.9,779.1 166.4,783.9 166.4,759.8 166.9,775.6 166.9,790.2 167.4,769.7 167.4,754.9 167.9,767.7 167.9,784.5 168.4,778.6 168.4,770.6 168.9,768.8 168.9,780 169.4,773.9 169.4,766.4 169.9,777.3 169.9,780.1 170.4,777.9 170.4,771.8 170.9,764.3 170.9,770.2 171.4,793.9 171.4,768.8 171.9,750.9 171.9,795.3 172.4,796.8 172.4,749.9 172.9,761.3 172.9,800.7 173.4,776.5 173.4,757.3 173.9,774.5 173.9,777.8 174.4,777.6 174.4,775.1 174.9,768.5 174.9,772.2 175.4,778.3 175.4,775.4 175.9,771.6 175.9,774.6 176.4,776.5 176.4,773.2 176.9,767.3 176.9,772 177.4,779.9 177.4,772.2 177.9,773.2 177.9,779.5 178.4,773.2 178.4,771.3 178.9,769.5 178.9,772.2 179.4,778 179.4,773 179.9,772.7 179.9,776.8 180.4,772.5 180.4,770.4 180.9,770.5 180.9,776.9 181.4,779.5 181.4,770.5 181.9,764.4 181.9,770.7 182.4,794.8 182.4,779.2 182.9,752.9 182.9,785.9 183.4,773.3 183.4,751.9 183.9,779 183.9,786.9 184.4,775.3 184.4,768.3 184.9,773.6 184.9,778.4 185.4,771.6 185.4,767.5 185.9,775.6 185.9,781.4 186.4,784.9 186.4,761.4 186.9,765.9 186.9,787.8 187.4,772.5 187.4,756.9 187.9,778.5 187.9,785.2 188.4,781.1 188.4,767.3 188.9,766.8 188.9,776.8 189.4,777.6 189.4,771.9 189.9,770.8 189.9,774.7 190.4,776.2 190.4,774 190.9,773.1 190.9,774.9 191.4,773.1 191.4,769.8 191.9,771.5 191.9,780.1 192.4,775.8 192.4,766.4 192.9,769.8 192.9,791.9 193.4,792.4 193.4,742.3 193.9,775.7 193.9,798.7 194.4,765.3 194.4,747.9 194.9,754.7 194.9,768.6 195.4,779.2 195.4,772 195.9,771.4 195.9,777.6 196.4,773.1 196.4,770.8 196.9,771.7 196.9,772.9 197.4,778.1 197.4,773 197.9,772.7 197.9,779.2 198.4,772.6 198.4,768.6 198.9,771.7 198.9,775.6 199.4,779.5 199.4,772.2 199.9,770.9 199.9,779.7 200.4,773.6 200.4,770.9 200.9,770.8 200.9,772.3 201.4,777.4 201.4,772.9 201.9,768.6 201.9,774 202.4,786.4 202.4,776.4 202.9,759.4 202.9,771.1 203.4,788.8 203.4,778.5 203.9,767.3 203.9,773.8 204.4,777 204.4,772.5 204.9,771.8 204.9,775 205.4,775 205.4,772.1 205.9,771.2 205.9,773.8 206.4,776.8 206.4,772.2 206.9,772.4 206.9,775.7 207.4,774.6 207.4,772.9 207.9,771.5 207.9,773.8 208.4,777.2 208.4,774.5 208.9,767 208.9,775 209.4,774.6 209.4,764.8 209.9,779.1 209.9,785.8 210.4,780 210.4,761.9 210.9,763.7 210.9,778.9 211.4,777.3 211.4,771.1 211.9,770 211.9,774.3 212.4,777.7 212.4,775.5 212.9,771 212.9,774.7 213.4,774.3 213.4,771.7 213.9,772.3 213.9,774.8 214.4,776.4 214.4,773.5 214.9,775.7 214.9,779.2 215.4,773.4 215.4,756.9 215.9,761.7 215.9,808.2 216.4,815.3 216.4,790.6 216.9,748.9 216.9,785.2 217.4,764.9 217.4,738.4 217.9,769.2 217.9,771.5 218.4,788.1 218.4,772.1 218.9,763.9 218.9,787.2 219.4,769.8 219.4,756.6 219.9,774.9 219.9,782.1 220.4,780.2 220.4,771.3 220.9,770 220.9,781.6 221.4,774.2 221.4,765 221.9,775.9 221.9,777.8 222.4,776.7 222.4,775.5 222.9,768 222.9,774.6 223.4,778.6 223.4,771 223.9,771.6 223.9,776.9 224.4,776.1 224.4,771.6 224.9,771.5 224.9,775.5 225.4,774.6 225.4,771.3 225.9,774.6 225.9,777 226.4,776.2 226.4,769.6 226.9,769.8 226.9,776.2 227.4,790.1 227.4,779.4 227.9,774 227.9,790.6 228.4,767.8 228.4,755.9 228.9,761 228.9,773 229.4,778.2 229.4,774.4 229.9,770.2 229.9,775.5 230.4,773.2 230.4,771 230.9,773.2 230.9,775.5 231.4,776.2 231.4,772.2 231.9,772.1 231.9,776.9 232.4,778.6 232.4,770.7 232.9,769 232.9,771.9 233.4,773.8 233.4,772.5 233.9,775.6 233.9,779.2 234.4,774.3 234.4,769 234.9,772.4 234.9,778 235.4,776.1 235.4,769.2 235.9,772.3 235.9,777.2 236.4,774.7 236.4,770.9 236.9,772.4 236.9,779.4 237.4,776.2 237.4,760.3 237.9,760.3 237.9,787.8 238.4,795.8 238.4,773.5 238.9,751.9 238.9,794 239.4,786.8 239.4,763 239.9,767.3 239.9,781.6 240.4,782.1 240.4,765 240.9,766.1 240.9,781.1 241.4,781.3 241.4,768.5 241.9,768.8 241.9,776.6 242.4,774.2 242.4,769.8 242.9,774.6 242.9,780.7 243.4,777.8 243.4,768 243.9,773.6 243.9,777.9 244.4,771.6 244.4,768.4 244.9,772.6 244.9,780.2 245.4,787.1 245.4,776.4 245.9,762.6 245.9,785.2 246.4,783 246.4,760.8 246.9,772.9 246.9,783.3 247.4,773.7 247.4,771.4 247.9,772.6 247.9,773.6 248.4,775.6 248.4,774.3 248.9,771.4 248.9,773.5 249.4,777.5 249.4,772.9 249.9,769.4 249.9,772.5 250.4,780.2 250.4,775.4 250.9,769.7 250.9,776.4 251.4,773.7 251.4,771.6 251.9,771.2 251.9,777.4 252.4,779.7 252.4,774.2 252.9,769.2 252.9,772.3 253.4,774.4 253.4,771 253.9,775.5 253.9,777.8 254.4,775.6 254.4,770.4 254.9,771.4 254.9,774.7 255.4,775.9 255.4,775.4 255.9,770.5 255.9,773.8 256.4,777.8 256.4,772.6 256.9,771.4 256.9,778.3 257.4,775.5 257.4,770.4 257.9,774.2 257.9,776.1 258.4,773.9 258.4,772.1 258.9,772.6 258.9,773.7 259.4,776.4 259.4,772.6 259.9,773.4 259.9,779.2 260.4,771.6 260.4,767.5 260.9,773.7 260.9,789.2 261.4,798.7 261.4,793.1 261.9,761.1 261.9,792.9 262.4,766.3 262.4,745.5 262.9,776.5 262.9,785.3 263.4,776.2 263.4,770.1 263.9,770.5 263.9,775.9 264.4,776.5 264.4,775.3 264.9,772.3 264.9,775.5 265.4,773.5 265.4,771 265.9,775.1 265.9,777.3 266.4,772.4 266.4,767.3 266.9,772.2 266.9,783.2 267.4,775.7 267.4,765.6 267.9,771.1 267.9,778.7 268.4,774.4 268.4,767.7 268.9,774.5 268.9,778.5 269.4,776.9 269.4,772.5 269.9,770.7 269.9,776.9 270.4,777.5 270.4,770.6 270.9,759.8 270.9,770.5 271.4,804 271.4,767.8 271.9,755 271.9,799.1 272.4,760.1 272.4,743.9 272.9,772 272.9,785.9 273.4,777.6 273.4,776.7 273.9,770.5 273.9,775.8 274.4,777.3 274.4,770.2 274.9,771.2 274.9,777.9 275.4,774.1 275.4,769.7 275.9,772.1 275.9,777.5 276.4,775 276.4,770.1 276.9,774.9 276.9,777.1 277.4,775.1 277.4,772 277.9,769.8 277.9,775.3 278.4,775.8 278.4,768.6 278.9,776.8 278.9,784.5 279.4,789.8 279.4,774.6 279.9,758.5 279.9,768.9 280.4,782.2 280.4,762.4 280.9,778.1 280.9,783.1 281.4,776.8 281.4,770.7 281.9,769.4 281.9,773.9 282.4,774.4 282.4,771.1 282.9,775.1 282.9,783 283.4,780.7 283.4,761.2 283.9,754.9 283.9,768.2 284.4,788.8 284.4,764.3 284.9,760.6 284.9,776.5 285.4,780 285.4,772.3 285.9,766.5 285.9,773.3 286.4,782.1 286.4,776.6 286.9,763 286.9,771.5 287.4,786.1 287.4,776.6 287.9,767.8 287.9,779 288.4,772.4 288.4,769.1 288.9,771.8 288.9,778 289.4,778.6 289.4,773.7 289.9,770.9 289.9,773 290.4,776.1 290.4,774.3 290.9,770.9 290.9,774.6 291.4,779.7 291.4,771.3 291.9,769.8 291.9,777.8 292.4,769.2 292.4,768.4 292.9,769.5 292.9,792.1 293.4,795.3 293.4,759.3 293.9,750.1 293.9,776.6 294.4,801.9 294.4,759.8 294.9,750.5 294.9,768.7 295.4,792.9 295.4,777.9 295.9,768.6 295.9,787.1 296.4,775 296.4,767.4 296.9,774.8 296.9,775.5 297.4,776.2 297.4,774.5 297.9,770.8 297.9,774.4 298.4,776.6 298.4,775.3 298.9,771.1 298.9,775.6 299.4,776 299.4,770.7 299.9,771.6 299.9,776.5 300.4,779 300.4,772.9 300.9,768.1 300.9,778.8 301.4,776 301.4,768.9 301.9,772.4 301.9,775.5 302.4,775.4 302.4,773.5 302.9,774.9 302.9,777.9 303.4,777 303.4,769 303.9,765.7 303.9,773.8 304.4,787.8 304.4,778.6 304.9,761.1 304.9,784.7 305.4,766.4 305.4,759.9 305.9,764.1 305.9,776.1 306.4,779.7 306.4,776.2 306.9,768.5 306.9,773.3 307.4,777.9 307.4,773.7 307.9,771.5 307.9,774.8 308.4,776 308.4,772.8 308.9,770.6 308.9,775.7 309.4,779.1 309.4,775.2 309.9,768.5 309.9,773.4 310.4,776.9 310.4,770.8 310.9,773.4 310.9,776.7 311.4,775.8 311.4,772.3 311.9,769.6 311.9,773.8 312.4,779.1 312.4,775.2 312.9,767.3 312.9,773.8 313.4,779.8 313.4,770.7 313.9,765 313.9,775.3 314.4,789.8 314.4,766.4 314.9,759.1 314.9,784.1 315.4,785.8 315.4,764 315.9,774.6 315.9,785.4 316.4,773.5 316.4,771.1 316.9,772.7 316.9,775.6 317.4,773.3 317.4,769.4 317.9,771 317.9,781.6 318.4,780.2 318.4,767.9 318.9,767.7 318.9,774.5 319.4,776.7 319.4,772.4 319.9,773.1 319.9,776.8 320.4,775.9 320.4,771.8 320.9,771.6 320.9,774.7 321.4,775 321.4,773.9 321.9,771.8 321.9,775 322.4,778.4 322.4,770.8 322.9,771.6 322.9,778.2 323.4,775.1 323.4,769.8 323.9,773 323.9,775.8 324.4,777 324.4,772.6 324.9,767.7 324.9,774.7 325.4,780.3 325.4,771.2 325.9,768.8 325.9,778.8 326.4,778.3 326.4,773.3 326.9,765.9 326.9,773.5 327.4,778.7 327.4,765.2 327.9,772.7 327.9,788.8 328.4,784.8 328.4,759.9 328.9,763.5 328.9,779.7 329.4,774.3 329.4,769.9 329.9,771.7 329.9,774.4 330.4,778.4 330.4,774.6 330.9,769.6 330.9,775.6 331.4,776.6 331.4,771.3 331.9,770.6 331.9,776 332.4,776.3 332.4,770.2 332.9,775.5 332.9,778.5 333.4,773.3 333.4,768.9 333.9,773.1 333.9,778.2 334.4,775.5 334.4,770.9 334.9,772.5 334.9,775.8 335.4,773.6 335.4,770.8 335.9,775.8 335.9,777.6 336.4,774.2 336.4,769.7 336.9,775.8 336.9,778 337.4,772.4 337.4,767.5 337.9,773 337.9,788.4 338.4,777.4 338.4,748.9 338.9,748.4 338.9,792.9 339.4,800.7 339.4,759 339.9,765 339.9,787 340.4,778.1 340.4,770.1 340.9,772.3 340.9,779.2 341.4,772.1 341.4,767.4 341.9,775.4 341.9,784.2 342.4,778.2 342.4,762.1 342.9,763.5 342.9,782.5 343.4,781.3 343.4,772.4 343.9,770.9 343.9,772.3 344.4,776.8 344.4,770.4 344.9,772.2 344.9,776.3 345.4,779.2 345.4,772.1 345.9,767.9 345.9,778.8 346.4,775.6 346.4,768.6 346.9,772.6 346.9,775.8 347.4,778.3 347.4,775.2 347.9,770.2 347.9,775.2 348.4,771.7 348.4,770.2 348.9,772.5 348.9,778.7 349.4,778.2 349.4,764.9 349.9,761.8 349.9,789.4 350.4,780.2 350.4,754.9 350.9,768.8 350.9,790.9 351.4,787.6 351.4,767.6 351.9,768.8 351.9,776.4 352.4,773.2 352.4,770.8 352.9,774.7 352.9,776.3 353.4,773.3 353.4,770 353.9,771.7 353.9,781.1 354.4,779.1 354.4,765.9 354.9,764.9 354.9,777.2 355.4,779.8 355.4,768.8 355.9,767.4 355.9,778.8 356.4,782.2 356.4,773.7 356.9,768.3 356.9,771.5 357.4,773.9 357.4,771.3 357.9,776.7 357.9,784.4 358.4,780.5 358.4,757.9 358.9,758.2 358.9,778.4 359.4,788.8 359.4,783.2 359.9,767.6 359.9,786.5 360.4,772.3 360.4,765.8 360.9,774.6 360.9,780.3 361.4,776.7 361.4,770.5 361.9,772.1 361.9,775 362.4,778.7 362.4,773.7 362.9,761 362.9,778.8 363.4,785.4 363.4,761.2 363.9,774.2 363.9,789.2 364.4,768.3 364.4,758.7 364.9,770.9 364.9,793.5 365.4,791.8 365.4,772.1 365.9,752.9 365.9,771.9 366.4,781.2 366.4,777.7 366.9,768.2 366.9,776 367.4,772.3 367.4,769.3 367.9,773 367.9,780.8 368.4,781.1 368.4,771 368.9,766.6 368.9,769.9 369.4,777.1 369.4,772.1 369.9,776.3 369.9,777.2 370.4,776.1 370.4,772.6 370.9,767.3 370.9,770.4 371.4,792.4 371.4,770.5 371.9,776.5 371.9,803.9 372.4,759.1 372.4,734.4 372.9,770.3 372.9,819.3 373.4,769.2 373.4,742.5 373.9,775.9 373.9,780.9 374.4,774.3 374.4,769.7 374.9,776.6 374.9,778 375.4,774.2 375.4,767.9 375.9,770.3 375.9,780.4 376.4,780.8 376.4,770.9 376.9,767.3 376.9,775.2 377.4,777.7 377.4,773 377.9,772.6 377.9,777.2 378.4,777.7 378.4,769 378.9,769.6 378.9,778.6 379.4,777.6 379.4,768 379.9,767.7 379.9,781.7 380.4,782 380.4,768.6 380.9,765.5 380.9,772.5 381.4,786.8 381.4,777.5 381.9,760.3 381.9,782.1 382.4,777.6 382.4,760.9 382.9,775.7 382.9,783.4 383.4,773.6 383.4,768.6 383.9,772 383.9,777.5 384.4,775.5 384.4,768.5 384.9,773.5 384.9,779.5 385.4,772.8 385.4,771.3 385.9,771.1 385.9,772.6 386.4,776.6 386.4,772.9 386.9,771.8 386.9,775.9 387.4,776.4 387.4,773.9 387.9,771.9 387.9,773.9 388.4,775.5 388.4,774.3 388.9,773.1 388.9,774.4 389.4,774.3 389.4,772.9 389.9,772.7 389.9,774.4 390.4,776.6 390.4,774.6 390.9,768.9 390.9,773.5 391.4,778.1 391.4,773.1 391.9,771.3 391.9,777.5 392.4,771 392.4,769 392.9,768.9 392.9,774 393.4,796.1 393.4,778 393.9,734 393.9,784.5 394.4,782.5 394.4,745.7 394.9,790.6 394.9,809.7 395.4,793.1 395.4,765.2 395.9,766.9 395.9,779.3 396.4,778.5 396.4,769.3 396.9,769.7 396.9,778.4 397.4,778.3 397.4,767.8 397.9,768.6 397.9,778.9 398.4,779 398.4,772.1 398.9,771.1 398.9,777.3 399.4,772.4 399.4,767.4 399.9,770.2 399.9,781.8 400.4,781.3 400.4,766.8 400.9,767.7 400.9,776.7 401.4,779.1 401.4,773.2 401.9,771 401.9,774 402.4,775.2 402.4,772.9 402.9,774.1 402.9,776.1 403.4,774.6 403.4,771.2 403.9,773 403.9,775.3 404.4,773 404.4,770.3 404.9,775.1 404.9,782.1 405.4,777.7 405.4,768.7 405.9,756.9 405.9,767.4 406.4,792.8 406.4,758.7 406.9,773.2 406.9,787.1 407.4,771.3 407.4,768.3 407.9,772.6 407.9,776 408.4,773 408.4,772 408.9,771.8 408.9,774.1 409.4,781.1 409.4,776.8 409.9,765.6 409.9,775.9 410.4,776.9 410.4,765.4 410.9,775.6 410.9,780.2 411.4,775.7 411.4,770.4 411.9,770.2 411.9,777.3 412.4,775.7 412.4,767.6 412.9,772.1 412.9,780 413.4,774 413.4,770.1 413.9,775.8 413.9,777.2 414.4,774.9 414.4,769.1 414.9,769.2 414.9,774.8 415.4,781 415.4,776.5 415.9,763.9 415.9,787.9 416.4,794.6 416.4,749.2 416.9,749.9 416.9,791.5 417.4,803.7 417.4,755.7 417.9,754.5 417.9,781.9 418.4,777.2 418.4,765 418.9,764.6 418.9,785 419.4,785.3 419.4,769.9 419.9,765 419.9,772.2 420.4,778.9 420.4,775 420.9,767.2 420.9,772.4 421.4,779.6 421.4,772.1 421.9,771.9 421.9,779.3 422.4,771.5 422.4,769.6 422.9,770.8 422.9,775.7 423.4,780.6 423.4,776.9 423.9,768.6 423.9,776.7 424.4,768.8 424.4,766.2 424.9,771.4 424.9,780.7 425.4,780.2 425.4,774.7 425.9,771.7 425.9,774.9 426.4,769.7 426.4,768 426.9,770.5 426.9,780.1 427.4,780.4 427.4,771.4 427.9,765.8 427.9,772.3 428.4,781.5 428.4,774.2 428.9,764.3 428.9,769.2 429.4,784 429.4,773.8 429.9,770.1 429.9,780.4 430.4,771.2 430.4,765.5 430.9,764.5 430.9,778.3 431.4,784.3 431.4,775.3 431.9,768 431.9,771.8 432.4,774.4 432.4,769.6 432.9,774.4 432.9,775.5 433.4,778.2 433.4,774 433.9,769.4 433.9,777.3 434.4,776 434.4,766.5 434.9,776.5 434.9,780.4 435.4,774.5 435.4,770 435.9,772 435.9,775 436.4,776.3 436.4,772.4 436.9,770.8 436.9,776.4 437.4,779.2 437.4,770.1 437.9,758.7 437.9,777.1 438.4,757.6 438.4,738.4 438.9,744.1 438.9,797 439.4,806 439.4,763.1 439.9,751.7 439.9,767.5 440.4,778 440.4,772.2 440.9,774.7 440.9,777.3 441.4,777.8 441.4,775.8 441.9,769.9 441.9,774.7 442.4,776.8 442.4,770.6 442.9,770.9 442.9,775.4 443.4,776.2 443.4,773.2 443.9,770.2 443.9,775.3 444.4,775.3 444.4,772 444.9,775.5 444.9,779.3 445.4,778.2 445.4,765.5 445.9,765.3 445.9,780 446.4,782.1 446.4,769.7 446.9,767.1 446.9,778.1 447.4,780 447.4,773.5 447.9,769.2 447.9,771.6 448.4,776.4 448.4,773.6 448.9,772.5 448.9,773.7 449.4,775.7 449.4,774.7 449.9,771.4 449.9,777.6 450.4,768 450.4,760.9 450.9,767.4 450.9,773 451.4,785 451.4,776.9 451.9,765.8 451.9,776.6 452.4,779.1 452.4,767 452.9,771.3 452.9,779.3 453.4,776.1 453.4,770.9 453.9,771.3 453.9,777.7 454.4,771.5 454.4,766.6 454.9,775.4 454.9,782.6 455.4,771.4 455.4,766.1 455.9,775.4 455.9,781.9 456.4,774.6 456.4,764.5 456.9,772.8 456.9,781.4 457.4,779 457.4,770.4 457.9,770.1 457.9,776.6 458.4,778.2 458.4,774.8 458.9,768.2 458.9,773 459.4,775.2 459.4,769.1 459.9,777.5 459.9,781.9 460.4,782.1 460.4,768.4 460.9,760.9 460.9,770.6 461.4,786.8 461.4,776.5 461.9,770.9 461.9,780.9 462.4,775.2 462.4,769.9 462.9,775.3 462.9,778.8 463.4,774 463.4,770 463.9,772.5 463.9,778.9 464.4,770.8 464.4,767.7 464.9,774.8 464.9,777.1 465.4,777.2 465.4,774.4 465.9,768.7 465.9,776.9 466.4,775 466.4,768.7 466.9,774.2 466.9,776.9 467.4,774.5 467.4,773.5 467.9,772.8 467.9,774.6 468.4,774.2 468.4,772 468.9,773.7 468.9,776.8 469.4,775.7 469.4,772.5 469.9,769.6 469.9,776.4 470.4,778.5 470.4,766.8 470.9,775.2 470.9,783.9 471.4,769.8 471.4,745.7 471.9,764.7 471.9,823.7 472.4,771.4 472.4,729.4 472.9,789.9 472.9,819.2 473.4,774.8 473.4,753.7 473.9,777.1 473.9,781.7 474.4,772.6 474.4,765.5 474.9,767.8 474.9,781.5 475.4,781.1 475.4,771.2 475.9,768.6 475.9,771.2 476.4,778 476.4,773.3 476.9,762.5 476.9,775.3 477.4,788.8 477.4,764.1 477.9,760.8 477.9,788.8 478.4,774.3 478.4,755.9 478.9,777.2 478.9,784.1 479.4,776.5 479.4,771.2 479.9,768.4 479.9,775.9 480.4,779.2 480.4,767.8 480.9,769.3 480.9,782.5 481.4,775 481.4,766.6 481.9,775 481.9,779.9 482.4,772.1 482.4,767.8 482.9,768.7 482.9,785.7 483.4,798.7 483.4,785.2 483.9,752 483.9,777.5 484.4,759.6 484.4,751 484.9,767.5 484.9,782 485.4,777.5 485.4,768.8 485.9,770.7 485.9,778.1 486.4,774.9 486.4,769.5 486.9,773 486.9,780.3 487.4,776.9 487.4,766.7 487.9,769.8 487.9,779.4 488.4,779.2 488.4,772.7 488.9,770.9 488.9,773.5 489.4,775.1 489.4,774.5 489.9,770.8 489.9,772.6 490.4,779.5 490.4,773.1 490.9,769.3 490.9,777.2 491.4,775 491.4,768.9 491.9,772 491.9,775.5 492.4,774.6 492.4,772.8 492.9,773.9 492.9,774.2" fill="none" stroke="#0874bf" stroke-width="1.45" stroke-linejoin="round"/>
<text transform="translate(107.4 859.1) scale(0.95 1)" font-size="28.2" text-anchor="middle">0</text>
<text transform="translate(201.4 859.1) scale(0.95 1)" font-size="28.2" text-anchor="middle">0.1</text>
<text transform="translate(295.3 859.1) scale(0.95 1)" font-size="28.2" text-anchor="middle">0.2</text>
<text transform="translate(389.3 859.1) scale(0.95 1)" font-size="28.2" text-anchor="middle">0.3</text>
<text transform="translate(483.2 859.1) scale(0.95 1)" font-size="28.2" text-anchor="middle">0.4</text>
<text transform="translate(97.2 746.9) scale(0.95 1)" font-size="28.2" text-anchor="end">0.02</text>
<text transform="translate(97.2 783.1) scale(0.95 1)" font-size="28.2" text-anchor="end">0</text>
<text transform="translate(97.2 819.4) scale(0.95 1)" font-size="28.2" text-anchor="end">-0.02</text>
<text x="299.3" y="717.3" font-size="27.3" text-anchor="middle">IMF5</text>
<text transform="translate(25.7 776.5) rotate(-90)" font-size="27.3" text-anchor="middle">Amplitude</text>
<path d="M744.5 729.4V823.7M873 729.4V823.7M616.1 756.6H1001.5M616.1 790.1H1001.5" stroke="#dedede" stroke-width="1.2" fill="none"/>
<path d="M616.1 823.7v-4.2M616.1 729.4v4.2M744.5 823.7v-4.2M744.5 729.4v4.2M873 823.7v-4.2M873 729.4v4.2M1001.5 823.7v-4.2M1001.5 729.4v4.2M616.1 756.6h4.2M1001.5 756.6h-4.2M616.1 790.1h4.2M1001.5 790.1h-4.2M616.1 823.7h4.2M1001.5 823.7h-4.2" stroke="#262626" stroke-width="1.3" fill="none"/>
<rect x="616.1" y="729.4" width="385.4" height="94.3" stroke="#262626" stroke-width="1.3" fill="none"/>
<polyline points="616.1,822 617.7,817 619.2,810.9 620.8,815.1 622.4,815.1 623.9,807.3 625.5,810.4 627.1,804.2 628.6,797.1 630.2,802.4 631.8,796.9 633.3,809.3 634.9,796.7 636.5,809.1 638.1,814.4 639.6,806.5 641.2,809.7 642.8,811.8 644.3,816.3 645.9,815.6 647.5,820.4 649,816 650.6,804.9 652.2,809.9 653.7,818.5 655.3,807 656.9,802.6 658.4,808.9 660,809.9 661.6,811.4 663.1,815.8 664.7,802.5 666.3,804.1 667.8,804.2 669.4,784.4 671,750.9 672.5,787.1 674.1,808.3 675.7,820.2 677.3,809.3 678.8,803.3 680.4,805 682,812.8 683.5,816.7 685.1,789.7 686.7,784.8 688.2,803.2 689.8,810 691.4,814 692.9,810.8 694.5,791.8 696.1,814.1 697.6,813.4 699.2,805.5 700.8,785.8 702.3,808.2 703.9,803.8 705.5,810.1 707,815 708.6,821 710.2,813.9 711.7,818.1 713.3,810.4 714.9,810.1 716.5,817.8 718,804.7 719.6,809.5 721.2,804.3 722.7,783.2 724.3,773 725.9,792.5 727.4,787.7 729,794.7 730.6,797.6 732.1,797.1 733.7,805.5 735.3,811.1 736.8,803.9 738.4,809.6 740,813.3 741.5,820 743.1,812.1 744.7,816.2 746.2,812.2 747.8,822.6 749.4,819.2 750.9,803.5 752.5,801.3 754.1,809.1 755.7,812.5 757.2,822.4 758.8,812.6 760.4,817.9 761.9,821.6 763.5,820.8 765.1,819.5 766.6,811.3 768.2,811.5 769.8,802 771.3,806 772.9,812.8 774.5,812.2 776,817.8 777.6,806.1 779.2,783.1 780.7,807.2 782.3,812 783.9,814.4 785.4,816.2 787,812.2 788.6,813.3 790.1,822.3 791.7,819.2 793.3,817.1 794.9,818.1 796.4,815.5 798,813.2 799.6,815.7 801.1,816.6 802.7,813.2 804.3,815.1 805.8,815 807.4,810 809,813.3 810.5,819.3 812.1,814 813.7,819 815.2,817.9 816.8,822.5 818.4,816.4 819.9,822.3 821.5,817 823.1,812.8 824.6,816.5 826.2,818.9 827.8,821.4 829.3,819.7 830.9,817 832.5,819.9 834.1,815.7 835.6,807.3 837.2,810.2 838.8,810.4 840.3,815.1 841.9,820.6 843.5,819.5 845,816.4 846.6,819.9 848.2,819.5 849.7,818.4 851.3,820.7 852.9,820.2 854.4,818.5 856,819.8 857.6,819.4 859.1,817.6 860.7,815.3 862.3,819.3 863.8,820 865.4,812.8 867,817 868.5,823.4 870.1,821.3 871.7,822.9 873.3,818.4 874.8,821.8 876.4,820.3 878,816.1 879.5,820.3 881.1,819.4 882.7,818.4 884.2,816.9 885.8,814.2 887.4,803.4 888.9,819.8 890.5,819.1 892.1,823 893.6,820 895.2,819.5 896.8,815.9 898.3,818.6 899.9,820.4 901.5,820.7 903,821.8 904.6,821.1 906.2,821.3 907.7,820.2 909.3,821 910.9,819.7 912.5,818.2 914,822.1 915.6,822.1 917.2,822.2 918.7,816.1 920.3,816.4 921.9,818.8 923.4,820.2 925,821.7 926.6,818.6 928.1,819.8 929.7,819.5 931.3,820.7 932.8,821.7 934.4,823.5 936,821.5 937.5,819.8 939.1,822 940.7,820.5 942.2,821.3 943.8,822.3 945.4,820 946.9,822.5 948.5,822.6 950.1,818 951.7,818.1 953.2,819.8 954.8,819 956.4,821.6 957.9,821.2 959.5,820.2 961.1,820.1 962.6,820.2 964.2,822.4 965.8,819.9 967.3,822.3 968.9,820.8 970.5,817.3 972,819.3 973.6,821.5 975.2,820.8 976.7,822.1 978.3,822.2 979.9,822.3 981.4,821.7 983,821.2 984.6,820.1 986.1,818.5 987.7,820.4 989.3,821.1 990.9,822.4 992.4,820.1 994,820.9 995.6,819.7 997.1,820.9 998.7,819.8 1000.3,821.9" fill="none" stroke="#1414dc" stroke-width="1.15" stroke-linejoin="round"/>
<circle cx="671" cy="750.9" r="2.9" fill="#e8121c"/>
<circle cx="724.3" cy="773" r="2.9" fill="#e8121c"/>
<circle cx="779.2" cy="783.1" r="2.9" fill="#e8121c"/>
<text transform="translate(615.8 859.1) scale(0.95 1)" font-size="28.2" text-anchor="middle">0</text>
<text transform="translate(744.2 859.1) scale(0.95 1)" font-size="28.2" text-anchor="middle">200</text>
<text transform="translate(872.7 859.1) scale(0.95 1)" font-size="28.2" text-anchor="middle">400</text>
<text transform="translate(1001.2 859.1) scale(0.95 1)" font-size="28.2" text-anchor="middle">600</text>
<text transform="translate(605.4 765.9) scale(0.95 1)" font-size="28.2" text-anchor="end">2</text>
<text transform="translate(605.4 799.4) scale(0.95 1)" font-size="28.2" text-anchor="end">1</text>
<text transform="translate(605.4 833) scale(0.95 1)" font-size="28.2" text-anchor="end">0</text>
<text transform="translate(551.5 776.4) rotate(-90)" font-size="27.3" text-anchor="middle">Amplitude</text>
<text x="626.7" y="726.6" font-size="33.5" text-anchor="middle">×</text>
<text transform="translate(640 722.9) scale(0.95 1)" font-size="28.2" text-anchor="start">10</text>
<text x="666.5" y="709.3" font-size="21.6" text-anchor="start">-3</text>
<text x="301.4" y="894.9" font-size="27.3" text-anchor="middle">Time(s)</text>
<text x="300" y="926.6" font-size="27.3" text-anchor="middle">a</text>
<text x="808" y="894.8" font-size="27.3" text-anchor="middle">Frequency(Hz)</text>
<text x="808.6" y="926.6" font-size="27.3" text-anchor="middle">b</text>
</svg>
</body>
</html>
